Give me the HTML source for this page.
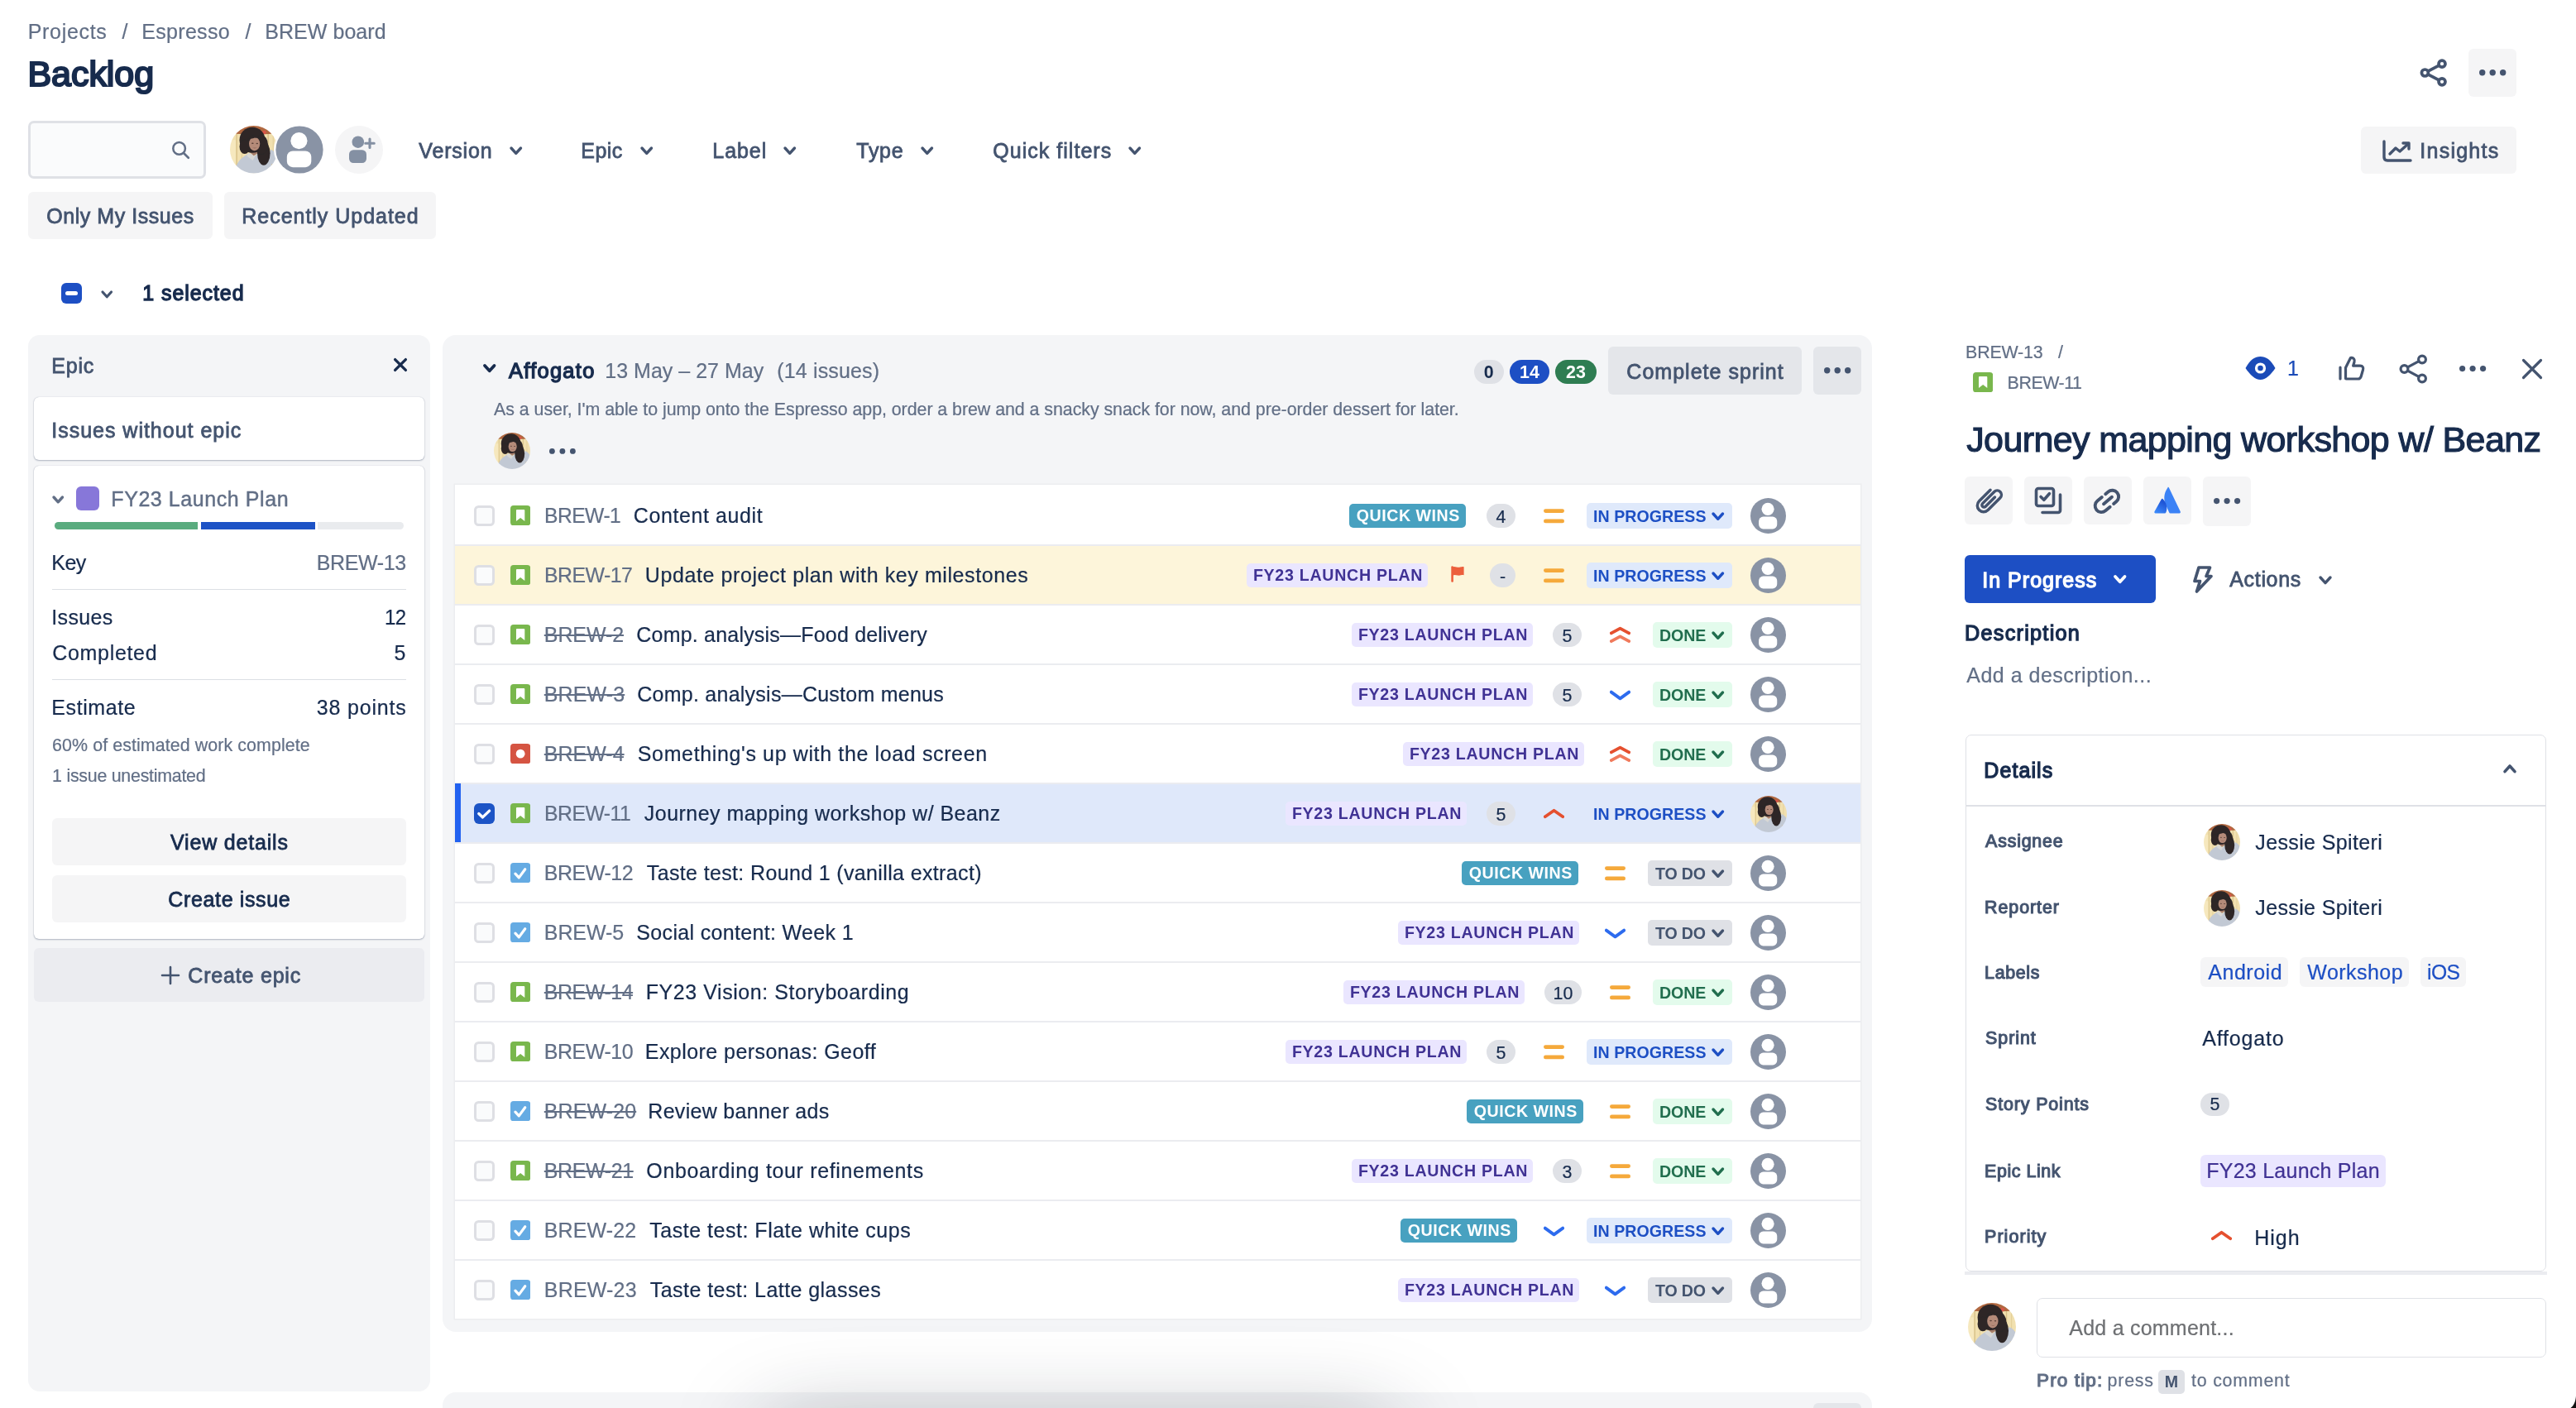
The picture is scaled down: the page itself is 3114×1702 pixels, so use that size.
<!DOCTYPE html>
<html><head><meta charset="utf-8"><title>Backlog</title>
<style>
html,body{margin:0;padding:0;}
body{width:3114px;height:1702px;overflow:hidden;background:#fff;position:relative;font-family:"Liberation Sans",sans-serif;}
#root{position:absolute;left:0;top:0;width:3114px;height:1702px;will-change:transform;}
.a{position:absolute;display:block;}
.t{position:absolute;white-space:nowrap;line-height:1;display:inline-block;}
.t2{white-space:nowrap;line-height:1;display:inline-block;}
div.a>.t2{vertical-align:top;}
</style></head>
<body>
<div id="root">
<span class="t" style="top: 25.8px; font-size: 25px; color: rgb(98, 111, 134); -webkit-text-stroke: 0.22px rgb(98, 111, 134); left: 33.7px; letter-spacing: 0.685px;">Projects</span>
<span class="t" style="top:25.80px;font-size:25px;color:#626F86;-webkit-text-stroke:0.22px #626F86;left:147.5px;">/</span>
<span class="t" style="top: 25.8px; font-size: 25px; color: rgb(98, 111, 134); -webkit-text-stroke: 0.22px rgb(98, 111, 134); left: 171.3px; letter-spacing: 0.299px;">Espresso</span>
<span class="t" style="top:25.80px;font-size:25px;color:#626F86;-webkit-text-stroke:0.22px #626F86;left:296.5px;">/</span>
<span class="t" style="top: 25.8px; font-size: 25px; color: rgb(98, 111, 134); -webkit-text-stroke: 0.22px rgb(98, 111, 134); left: 320.3px; letter-spacing: 0.046px;">BREW board</span>
<span class="t" style="top: 67.8px; font-size: 43px; color: rgb(23, 43, 77); -webkit-text-stroke: 2.24px rgb(23, 43, 77); left: 33.5px; letter-spacing: -0.06px;">Backlog</span>
<div class="a" style="left:34px;top:146px;width:215px;height:70px;background:#FAFBFC;border-radius:7px;border:3px solid #DFE1E6;box-sizing:border-box;"></div>
<svg class="a" style="left:205px;top:168px;" width="28" height="28" viewBox="0 0 28 28"><circle cx="11.6" cy="11.4" r="7.3" fill="none" stroke="#626F86" stroke-width="2.5"></circle><path d="M17 17 L22.8 22.8" stroke="#626F86" stroke-width="2.7" stroke-linecap="round"></path></svg>
<svg class="a" style="left:278.25px;top:152.45px;" width="57.5" height="57.5" viewBox="0 0 100 100">
<defs><clipPath id="cp307_181"><circle cx="50" cy="50" r="50"></circle></clipPath>
<filter id="bl307_181" x="-10%" y="-10%" width="120%" height="120%"><feGaussianBlur stdDeviation="1.1"></feGaussianBlur></filter></defs>
<g clip-path="url(#cp307_181)"><g filter="url(#bl307_181)">
<rect x="-5" y="-5" width="110" height="110" fill="#F1E0AF"></rect>
<rect x="13" y="10" width="2.2" height="90" fill="#D6BF86"></rect><rect x="24" y="10" width="1.6" height="90" fill="#E0CC96"></rect>
<rect x="79" y="10" width="2.4" height="90" fill="#D6BF86"></rect><rect x="90" y="10" width="1.6" height="90" fill="#E0CC96"></rect>
<rect x="0" y="30" width="12" height="70" fill="#F6E8BE"></rect>
<path d="M-5 -5 H105 V15 C80 19 20 19 -5 15 Z" fill="#B0673F"></path>
<circle cx="72" cy="14" r="4" fill="#D8564A"></circle>
<path d="M84 82 L100 70 V100 H80 Z" fill="#D2AE66"></path>
<path d="M10 100 C12 78 22 68 40 58 L52 64 L62 54 C68 58 72 62 78 64 L86 50 C93 53 98 58 101 66 L94 84 L88 80 L86 101 Z" fill="#C2C9D4"></path>
<path d="M40 57 L53 64 L48 73 L35 63 Z" fill="#D8D8D5"></path>
<path d="M43 44 L60 48 L58 58 L50 63 L42 56 Z" fill="#A67D6B"></path>
<ellipse cx="47" cy="30" rx="27" ry="27" fill="#2D2628"></ellipse>
<ellipse cx="31" cy="44" rx="11" ry="15" fill="#2D2628"></ellipse>
<ellipse cx="71" cy="58" rx="13.5" ry="25" fill="#2D2628"></ellipse>
<ellipse cx="66" cy="40" rx="14" ry="20" fill="#2D2628"></ellipse>
<ellipse cx="51.5" cy="38" rx="11.5" ry="14.5" fill="#B58B79"></ellipse>
<path d="M37 30 C40 18 60 16 66 30 C60 24 56 27 52 25 C47 28 42 25 37 30 Z" fill="#2D2628"></path>
<ellipse cx="47.5" cy="37" rx="2.4" ry="1.3" fill="#5A4038"></ellipse><ellipse cx="57" cy="37.5" rx="2.2" ry="1.2" fill="#5A4038"></ellipse>
<path d="M47 45.5 Q52 49 57.5 45.5 Q52 47.5 47 45.5Z" fill="#7A4A42"></path>
</g></g></svg>
<svg class="a" style="left:330.5px;top:150.2px;" width="62" height="62" viewBox="0 0 100 100"><circle cx="50" cy="50" r="50" fill="#fff"></circle><g transform="translate(50 50) scale(0.9225806451612903) translate(-50 -50)"><circle cx="50" cy="50" r="50" fill="#8993A5"></circle><circle cx="49" cy="31" r="17.6" fill="#fff"></circle><rect x="23.5" y="52.5" width="51.5" height="34.5" rx="12.5" fill="#fff"></rect></g></svg>
<div class="a" style="left:405px;top:152px;width:58px;height:58px;background:#F5F5F6;border-radius:29px;"></div>
<svg class="a" style="left:419px;top:162px;" width="38" height="38" viewBox="0 0 38 38"><circle cx="13.8" cy="9.7" r="7.3" fill="#8490A3"></circle><rect x="3" y="19.2" width="21" height="15.8" rx="5.2" fill="#8490A3"></rect><path d="M28 6 v10.5 M22.75 11.25 h10.5" stroke="#8490A3" stroke-width="3.1" stroke-linecap="round"></path></svg>
<span class="t" style="top: 169.8px; font-size: 25px; color: rgb(68, 84, 111); -webkit-text-stroke: 0.8px rgb(68, 84, 111); left: 506.3px; letter-spacing: 0.82px;">Version</span>
<svg class="a" style="left:611.95px;top:173.4375px;" width="23.5" height="18.325" viewBox="-11.75 -9.1625 23.5 18.325"><path d="M-5.75,-3.1625 L0,3.1625 L5.75,-3.1625" fill="none" stroke="#44546F" stroke-width="3.4" stroke-linecap="round" stroke-linejoin="round"></path></svg>
<span class="t" style="top: 169.8px; font-size: 25px; color: rgb(68, 84, 111); -webkit-text-stroke: 0.8px rgb(68, 84, 111); left: 702.3px; letter-spacing: 0.422px;">Epic</span>
<svg class="a" style="left:770.25px;top:173.4375px;" width="23.5" height="18.325" viewBox="-11.75 -9.1625 23.5 18.325"><path d="M-5.75,-3.1625 L0,3.1625 L5.75,-3.1625" fill="none" stroke="#44546F" stroke-width="3.4" stroke-linecap="round" stroke-linejoin="round"></path></svg>
<span class="t" style="top: 169.8px; font-size: 25px; color: rgb(68, 84, 111); -webkit-text-stroke: 0.8px rgb(68, 84, 111); left: 861.3px; letter-spacing: 0.946px;">Label</span>
<svg class="a" style="left:943.25px;top:173.4375px;" width="23.5" height="18.325" viewBox="-11.75 -9.1625 23.5 18.325"><path d="M-5.75,-3.1625 L0,3.1625 L5.75,-3.1625" fill="none" stroke="#44546F" stroke-width="3.4" stroke-linecap="round" stroke-linejoin="round"></path></svg>
<span class="t" style="top: 169.8px; font-size: 25px; color: rgb(68, 84, 111); -webkit-text-stroke: 0.8px rgb(68, 84, 111); left: 1035.3px; letter-spacing: 0.702px;">Type</span>
<svg class="a" style="left:1109.25px;top:173.4375px;" width="23.5" height="18.325" viewBox="-11.75 -9.1625 23.5 18.325"><path d="M-5.75,-3.1625 L0,3.1625 L5.75,-3.1625" fill="none" stroke="#44546F" stroke-width="3.4" stroke-linecap="round" stroke-linejoin="round"></path></svg>
<span class="t" style="top: 169.8px; font-size: 25px; color: rgb(68, 84, 111); -webkit-text-stroke: 0.8px rgb(68, 84, 111); left: 1200.3px; letter-spacing: 1.027px;">Quick filters</span>
<svg class="a" style="left:1360.25px;top:173.4375px;" width="23.5" height="18.325" viewBox="-11.75 -9.1625 23.5 18.325"><path d="M-5.75,-3.1625 L0,3.1625 L5.75,-3.1625" fill="none" stroke="#44546F" stroke-width="3.4" stroke-linecap="round" stroke-linejoin="round"></path></svg>
<div class="a" style="left:34px;top:232px;width:223px;height:57px;background:#F5F5F6;border-radius:6px;"></div>
<span class="t" style="top: 248.8px; font-size: 25px; color: rgb(68, 84, 111); -webkit-text-stroke: 0.8px rgb(68, 84, 111); left: 56.3px; letter-spacing: 0.54px;">Only My Issues</span>
<div class="a" style="left:271px;top:232px;width:256px;height:57px;background:#F5F5F6;border-radius:6px;"></div>
<span class="t" style="top: 248.8px; font-size: 25px; color: rgb(68, 84, 111); -webkit-text-stroke: 0.8px rgb(68, 84, 111); left: 292.3px; letter-spacing: 0.972px;">Recently Updated</span>
<svg class="a" style="left:2924px;top:69px;" width="38" height="38" viewBox="0 0 38 38"><g fill="none" stroke="#44546F" stroke-width="3.7"><circle cx="28" cy="8.2" r="4"></circle><circle cx="7.4" cy="19" r="4"></circle><circle cx="28" cy="29.8" r="4"></circle><path d="M11 17.1 L24.4 10.1 M11 20.9 L24.4 27.9"></path></g></svg>
<div class="a" style="left:2984px;top:59px;width:58px;height:58px;background:#F5F5F6;border-radius:6px;"></div>
<svg class="a" style="left:2995.8px;top:83.3px;" width="34.4" height="9.4" viewBox="-17.2 -4.7 34.4 9.4"><circle cx="-12.5" cy="0" r="3.7" fill="#44546F"></circle><circle cx="0.0" cy="0" r="3.7" fill="#44546F"></circle><circle cx="12.5" cy="0" r="3.7" fill="#44546F"></circle></svg>
<div class="a" style="left:2854px;top:153px;width:188px;height:57px;background:#F5F5F6;border-radius:6px;"></div>
<svg class="a" style="left:2878.5px;top:168px;" width="38" height="30" viewBox="0 0 38 30"><g fill="none" stroke="#44546F" stroke-width="3.4" stroke-linecap="round" stroke-linejoin="round"><path d="M3 3 V22 Q3 26 7 26 H35"></path><path d="M10 18 L17 11 L22 15 L32 6"></path><path d="M26 5 H33 V12"></path></g></svg>
<span class="t" style="top: 169.8px; font-size: 25px; color: rgb(68, 84, 111); -webkit-text-stroke: 0.8px rgb(68, 84, 111); left: 2925.3px; letter-spacing: 1.249px;">Insights</span>
<div class="a" style="left:74px;top:342px;width:25px;height:25px;background:#1D4FC4;border-radius:6px;"></div>
<div class="a" style="left:79.3px;top:351.9px;width:14.6px;height:5px;background:#fff;border-radius:2.5px;"></div>
<svg class="a" style="left:118.44999999999999px;top:346.9125px;" width="22.5" height="17.775" viewBox="-11.25 -8.8875 22.5 17.775"><path d="M-5.25,-2.8875 L0,2.8875 L5.25,-2.8875" fill="none" stroke="#44546F" stroke-width="3.2" stroke-linecap="round" stroke-linejoin="round"></path></svg>
<span class="t" style="top: 341.8px; font-size: 25px; color: rgb(23, 43, 77); -webkit-text-stroke: 1.3px rgb(23, 43, 77); left: 172.3px; letter-spacing: 0.927px;">1 selected</span>
<div class="a" style="left:34px;top:405px;width:486px;height:1277px;background:#F4F5F7;border-radius:14px;"></div>
<span class="t" style="top: 429.8px; font-size: 25px; color: rgb(68, 84, 111); -webkit-text-stroke: 0.8px rgb(68, 84, 111); left: 62.3px; letter-spacing: 0.756px;">Epic</span>
<svg class="a" style="left:473px;top:430px;" width="22" height="22" viewBox="0 0 22 22"><path d="M4.6 4.6 L17.4 17.4 M17.4 4.6 L4.6 17.4" stroke="#172B4D" stroke-width="3.3" stroke-linecap="round"></path></svg>
<div class="a" style="left:41px;top:480px;width:472px;height:76px;background:#fff;border-radius:6px;box-shadow:0 1px 2px rgba(9,30,66,.28),0 0 1px rgba(9,30,66,.3);"></div>
<span class="t" style="top: 507.8px; font-size: 25px; color: rgb(68, 84, 111); -webkit-text-stroke: 0.8px rgb(68, 84, 111); left: 62.3px; letter-spacing: 0.982px;">Issues without epic</span>
<div class="a" style="left:41px;top:563px;width:472px;height:572px;background:#fff;border-radius:6px;box-shadow:0 1px 2px rgba(9,30,66,.28),0 0 1px rgba(9,30,66,.3);"></div>
<svg class="a" style="left:58.75px;top:594.6125px;" width="22.5" height="17.775" viewBox="-11.25 -8.8875 22.5 17.775"><path d="M-5.25,-2.8875 L0,2.8875 L5.25,-2.8875" fill="none" stroke="#626F86" stroke-width="3.4" stroke-linecap="round" stroke-linejoin="round"></path></svg>
<div class="a" style="left:92px;top:588px;width:28px;height:29px;background:#8777D9;border-radius:6px;"></div>
<span class="t" style="top: 590.8px; font-size: 25px; color: rgb(98, 111, 134); -webkit-text-stroke: 0.45px rgb(98, 111, 134); left: 134.3px; letter-spacing: 0.574px;">FY23 Launch Plan</span>
<div class="a" style="left:66px;top:631px;width:422px;height:9px;background:#E9EBEE;border-radius:4.5px;"></div>
<div class="a" style="left:66px;top:631px;width:173px;height:9px;background:#5AAC7F;border-radius:4.5px 0 0 4.5px;"></div>
<div class="a" style="left:243px;top:631px;width:138px;height:9px;background:#1D53C6;"></div>
<div class="a" style="left:239px;top:631px;width:4px;height:9px;background:#fff;"></div>
<div class="a" style="left:381px;top:631px;width:3px;height:9px;background:#fff;"></div>
<span class="t" style="top: 667.8px; font-size: 25px; color: rgb(23, 43, 77); -webkit-text-stroke: 0.22px rgb(23, 43, 77); left: 62.3px; letter-spacing: -0.55px;">Key</span>
<span class="t" style="top: 667.8px; font-size: 25px; color: rgb(98, 111, 134); -webkit-text-stroke: 0.22px rgb(98, 111, 134); right: 2623.29px; letter-spacing: -0.396px;">BREW-13</span>
<div class="a" style="left:63px;top:712px;width:428px;height:1px;background:#DCDFE4;"></div>
<span class="t" style="top: 733.8px; font-size: 25px; color: rgb(23, 43, 77); -webkit-text-stroke: 0.22px rgb(23, 43, 77); left: 62.3px; letter-spacing: 0.329px;">Issues</span>
<span class="t" style="top: 733.8px; font-size: 25px; color: rgb(23, 43, 77); -webkit-text-stroke: 0.22px rgb(23, 43, 77); right: 2623.46px; letter-spacing: -0.55px; transform: scaleX(0.9624); transform-origin: right center;">12</span>
<span class="t" style="top: 776.8px; font-size: 25px; color: rgb(23, 43, 77); -webkit-text-stroke: 0.22px rgb(23, 43, 77); left: 63.3px; letter-spacing: 0.676px;">Completed</span>
<span class="t" style="top:776.80px;font-size:25px;color:#172B4D;-webkit-text-stroke:0.22px #172B4D;right:2623.5px;">5</span>
<div class="a" style="left:63px;top:821px;width:428px;height:1px;background:#DCDFE4;"></div>
<span class="t" style="top: 842.8px; font-size: 25px; color: rgb(23, 43, 77); -webkit-text-stroke: 0.22px rgb(23, 43, 77); left: 62.3px; letter-spacing: 0.579px;">Estimate</span>
<span class="t" style="top: 842.8px; font-size: 25px; color: rgb(23, 43, 77); -webkit-text-stroke: 0.22px rgb(23, 43, 77); right: 2622.5px; letter-spacing: 0.804px;">38 points</span>
<span class="t" style="top: 890.6px; font-size: 21.4px; color: rgb(98, 111, 134); -webkit-text-stroke: 0.22px rgb(98, 111, 134); left: 63.11px; letter-spacing: 0.083px;">60% of estimated work complete</span>
<span class="t" style="top: 927.6px; font-size: 21.4px; color: rgb(98, 111, 134); -webkit-text-stroke: 0.22px rgb(98, 111, 134); left: 63.11px; letter-spacing: -0.262px;">1 issue unestimated</span>
<div class="a" style="left:63px;top:989px;width:428px;height:57px;background:#F5F5F6;border-radius:6px;"></div>
<div class="a" style="top:1005.80px;font-size:25px;color:#172B4D;-webkit-text-stroke:0.8px #172B4D;left:-323px;width:1200px;text-align:center;"><span class="t2" style="letter-spacing: 0.814px; margin-right: -0.814px;">View details</span></div>
<div class="a" style="left:63px;top:1058px;width:428px;height:57px;background:#F5F5F6;border-radius:6px;"></div>
<div class="a" style="top:1074.80px;font-size:25px;color:#172B4D;-webkit-text-stroke:0.8px #172B4D;left:-323px;width:1200px;text-align:center;"><span class="t2" style="letter-spacing: 0.633px; margin-right: -0.633px;">Create issue</span></div>
<div class="a" style="left:41px;top:1146px;width:472px;height:65px;background:#EBECF0;border-radius:6px;"></div>
<svg class="a" style="left:194px;top:1167px;" width="24" height="24" viewBox="0 0 24 24"><path d="M12 2 V22 M2 12 H22" stroke="#44546F" stroke-width="2.6" stroke-linecap="round"></path></svg>
<span class="t" style="top: 1166.8px; font-size: 25px; color: rgb(68, 84, 111); -webkit-text-stroke: 0.8px rgb(68, 84, 111); left: 227.3px; letter-spacing: 0.806px;">Create epic</span>
<div class="a" style="left:535px;top:405px;width:1728px;height:1205px;background:#F4F5F7;border-radius:16px;"></div>
<svg class="a" style="left:580.25px;top:436.3375px;" width="23.5" height="18.325" viewBox="-11.75 -9.1625 23.5 18.325"><path d="M-5.75,-3.1625 L0,3.1625 L5.75,-3.1625" fill="none" stroke="#172B4D" stroke-width="3.8" stroke-linecap="round" stroke-linejoin="round"></path></svg>
<span class="t" style="top: 435.8px; font-size: 25px; color: rgb(23, 43, 77); -webkit-text-stroke: 1.3px rgb(23, 43, 77); left: 615.3px; letter-spacing: 1.25px; transform: scaleX(1.0187); transform-origin: left center;">Affogato</span>
<span class="t" style="top: 435.8px; font-size: 25px; color: rgb(98, 111, 134); -webkit-text-stroke: 0.22px rgb(98, 111, 134); left: 731.3px; letter-spacing: 0.01px;">13 May – 27 May</span>
<span class="t" style="top: 435.8px; font-size: 25px; color: rgb(98, 111, 134); -webkit-text-stroke: 0.22px rgb(98, 111, 134); left: 939.3px; letter-spacing: 0.146px;">(14 issues)</span>
<span class="t" style="top: 484.6px; font-size: 21.4px; color: rgb(98, 111, 134); -webkit-text-stroke: 0.22px rgb(98, 111, 134); left: 597.11px; letter-spacing: -0.051px;">As a user, I'm able to jump onto the Espresso app, order a brew and a snacky snack for now, and pre-order dessert for later.</span>
<svg class="a" style="left:596.5px;top:523.0px;" width="44" height="44" viewBox="0 0 100 100">
<defs><clipPath id="cp618_545"><circle cx="50" cy="50" r="50"></circle></clipPath>
<filter id="bl618_545" x="-10%" y="-10%" width="120%" height="120%"><feGaussianBlur stdDeviation="1.1"></feGaussianBlur></filter></defs>
<g clip-path="url(#cp618_545)"><g filter="url(#bl618_545)">
<rect x="-5" y="-5" width="110" height="110" fill="#F1E0AF"></rect>
<rect x="13" y="10" width="2.2" height="90" fill="#D6BF86"></rect><rect x="24" y="10" width="1.6" height="90" fill="#E0CC96"></rect>
<rect x="79" y="10" width="2.4" height="90" fill="#D6BF86"></rect><rect x="90" y="10" width="1.6" height="90" fill="#E0CC96"></rect>
<rect x="0" y="30" width="12" height="70" fill="#F6E8BE"></rect>
<path d="M-5 -5 H105 V15 C80 19 20 19 -5 15 Z" fill="#B0673F"></path>
<circle cx="72" cy="14" r="4" fill="#D8564A"></circle>
<path d="M84 82 L100 70 V100 H80 Z" fill="#D2AE66"></path>
<path d="M10 100 C12 78 22 68 40 58 L52 64 L62 54 C68 58 72 62 78 64 L86 50 C93 53 98 58 101 66 L94 84 L88 80 L86 101 Z" fill="#C2C9D4"></path>
<path d="M40 57 L53 64 L48 73 L35 63 Z" fill="#D8D8D5"></path>
<path d="M43 44 L60 48 L58 58 L50 63 L42 56 Z" fill="#A67D6B"></path>
<ellipse cx="47" cy="30" rx="27" ry="27" fill="#2D2628"></ellipse>
<ellipse cx="31" cy="44" rx="11" ry="15" fill="#2D2628"></ellipse>
<ellipse cx="71" cy="58" rx="13.5" ry="25" fill="#2D2628"></ellipse>
<ellipse cx="66" cy="40" rx="14" ry="20" fill="#2D2628"></ellipse>
<ellipse cx="51.5" cy="38" rx="11.5" ry="14.5" fill="#B58B79"></ellipse>
<path d="M37 30 C40 18 60 16 66 30 C60 24 56 27 52 25 C47 28 42 25 37 30 Z" fill="#2D2628"></path>
<ellipse cx="47.5" cy="37" rx="2.4" ry="1.3" fill="#5A4038"></ellipse><ellipse cx="57" cy="37.5" rx="2.2" ry="1.2" fill="#5A4038"></ellipse>
<path d="M47 45.5 Q52 49 57.5 45.5 Q52 47.5 47 45.5Z" fill="#7A4A42"></path>
</g></g></svg>
<svg class="a" style="left:662.6px;top:540.6px;" width="33.8" height="8.8" viewBox="-16.9 -4.4 33.8 8.8"><circle cx="-12.5" cy="0" r="3.4" fill="#44546F"></circle><circle cx="0.0" cy="0" r="3.4" fill="#44546F"></circle><circle cx="12.5" cy="0" r="3.4" fill="#44546F"></circle></svg>
<div class="a" style="left:1782px;top:435px;width:35.5px;height:29px;background:#DFE1E6;border-radius:14.5px;"></div>
<div class="a" style="top:439.60px;font-size:21.4px;color:#172B4D;font-weight:700;left:1199.7px;width:1200px;text-align:center;"><span class="t2">0</span></div>
<div class="a" style="left:1825px;top:435px;width:48px;height:29px;background:#1D4FC4;border-radius:14.5px;"></div>
<div class="a" style="top:439.60px;font-size:21.4px;color:#fff;font-weight:700;left:1249px;width:1200px;text-align:center;"><span class="t2">14</span></div>
<div class="a" style="left:1880px;top:435px;width:50px;height:29px;background:#2F7D52;border-radius:14.5px;"></div>
<div class="a" style="top:439.60px;font-size:21.4px;color:#fff;font-weight:700;left:1305px;width:1200px;text-align:center;"><span class="t2">23</span></div>
<div class="a" style="left:1944px;top:419px;width:234px;height:58px;background:#E4E6EA;border-radius:6px;"></div>
<div class="a" style="top:436.80px;font-size:25px;color:#44546F;-webkit-text-stroke:0.8px #44546F;left:1461px;width:1200px;text-align:center;"><span class="t2" style="letter-spacing: 1.019px; margin-right: -1.019px;">Complete sprint</span></div>
<div class="a" style="left:2192px;top:419px;width:58px;height:58px;background:#E4E6EA;border-radius:6px;"></div>
<svg class="a" style="left:2203.8px;top:443.3px;" width="34.4" height="9.4" viewBox="-17.2 -4.7 34.4 9.4"><circle cx="-12.5" cy="0" r="3.7" fill="#44546F"></circle><circle cx="0.0" cy="0" r="3.7" fill="#44546F"></circle><circle cx="12.5" cy="0" r="3.7" fill="#44546F"></circle></svg>
<div class="a" style="left:550px;top:586px;width:1699px;height:1008px;background:#fff;box-shadow:0 0 0 1.5px #ECEDF0;"></div>
<div class="a" style="left:573px;top:611px;width:25px;height:25px;background:#FAFBFC;border-radius:5.5px;border:3px solid #DEDFE4;box-sizing:border-box;"></div>
<svg class="a" style="left:616.9px;top:611px;" width="24.3" height="24.3" viewBox="0 0 16 16"><rect width="16" height="16" rx="2.5" fill="#79B74D"></rect><path d="M5.2 3.3 h5.6 a.6.6 0 0 1 .6 .6 v8.6 l-3.4 -2.7 l-3.4 2.7 v-8.6 a.6.6 0 0 1 .6 -.6z" fill="#fff"></path></svg>
<span class="t" style="top: 610.8px; font-size: 25px; color: rgb(98, 111, 134); -webkit-text-stroke: 0.22px rgb(98, 111, 134); left: 657.83px; letter-spacing: -0.55px; transform: scaleX(0.9866); transform-origin: left center;">BREW-1</span>
<span class="t" style="top: 610.8px; font-size: 25px; color: rgb(23, 43, 77); -webkit-text-stroke: 0.22px rgb(23, 43, 77); left: 765.8px; letter-spacing: 0.594px;">Content audit</span>
<svg class="a" style="left:2115.7px;top:601.8px;" width="43" height="43" viewBox="0 0 100 100"><g transform="translate(50 50) scale(1.0) translate(-50 -50)"><circle cx="50" cy="50" r="50" fill="#8993A5"></circle><circle cx="49" cy="31" r="17.6" fill="#fff"></circle><rect x="23.5" y="52.5" width="51.5" height="34.5" rx="12.5" fill="#fff"></rect></g></svg>
<div class="a" style="left:1918px;top:608px;width:176px;height:31px;background:#DFE9FB;border-radius:5px;"></div>
<span class="t" style="top: 614.5px; font-size: 19.6px; color: rgb(29, 79, 196); font-weight: 700; left: 1926.02px; letter-spacing: 0.042px;">IN PROGRESS</span>
<svg class="a" style="left:2065.25px;top:614.8375px;" width="23.5" height="18.325" viewBox="-11.75 -9.1625 23.5 18.325"><path d="M-5.75,-3.1625 L0,3.1625 L5.75,-3.1625" fill="none" stroke="#1D4FC4" stroke-width="3.4" stroke-linecap="round" stroke-linejoin="round"></path></svg>
<svg class="a" style="left:1866px;top:609.5px;" width="25" height="28" viewBox="0 -14 25 28"><rect x="0" y="-8.7" width="25" height="4.6" rx="2.3" fill="#F5A93B"></rect><rect x="0" y="3.6" width="25" height="4.6" rx="2.3" fill="#F5A93B"></rect></svg>
<div class="a" style="left:1797px;top:609px;width:35px;height:29px;background:#DFE1E6;border-radius:14.5px;"></div>
<div class="a" style="top:614.60px;font-size:21.4px;color:#172B4D;-webkit-text-stroke:0.22px #172B4D;left:1214.5px;width:1200px;text-align:center;"><span class="t2">4</span></div>
<div class="a" style="left:1631.3px;top:609px;width:140.7px;height:28.5px;background:#48A1C0;border-radius:5px;"></div>
<span class="t" style="top: 613.5px; font-size: 19.6px; color: rgb(255, 255, 255); font-weight: 700; left: 1639.82px; letter-spacing: 0.531px;">QUICK WINS</span>
<div class="a" style="left:550px;top:659px;width:1699px;height:71px;background:#FDF5DA;"></div>
<div class="a" style="left:550px;top:658px;width:1699px;height:1.5px;background:#EBECF0;"></div>
<div class="a" style="left:573px;top:683px;width:25px;height:25px;background:#FAFBFC;border-radius:5.5px;border:3px solid #DEDFE4;box-sizing:border-box;"></div>
<svg class="a" style="left:616.9px;top:683px;" width="24.3" height="24.3" viewBox="0 0 16 16"><rect width="16" height="16" rx="2.5" fill="#79B74D"></rect><path d="M5.2 3.3 h5.6 a.6.6 0 0 1 .6 .6 v8.6 l-3.4 -2.7 l-3.4 2.7 v-8.6 a.6.6 0 0 1 .6 -.6z" fill="#fff"></path></svg>
<span class="t" style="top: 682.8px; font-size: 25px; color: rgb(98, 111, 134); -webkit-text-stroke: 0.22px rgb(98, 111, 134); left: 657.81px; letter-spacing: -0.55px; transform: scaleX(0.9945); transform-origin: left center;">BREW-17</span>
<span class="t" style="top: 682.8px; font-size: 25px; color: rgb(23, 43, 77); -webkit-text-stroke: 0.22px rgb(23, 43, 77); left: 779.8px; letter-spacing: 0.589px;">Update project plan with key milestones</span>
<svg class="a" style="left:2115.7px;top:673.8px;" width="43" height="43" viewBox="0 0 100 100"><g transform="translate(50 50) scale(1.0) translate(-50 -50)"><circle cx="50" cy="50" r="50" fill="#8993A5"></circle><circle cx="49" cy="31" r="17.6" fill="#fff"></circle><rect x="23.5" y="52.5" width="51.5" height="34.5" rx="12.5" fill="#fff"></rect></g></svg>
<div class="a" style="left:1918px;top:680px;width:176px;height:31px;background:#DFE9FB;border-radius:5px;"></div>
<span class="t" style="top: 686.5px; font-size: 19.6px; color: rgb(29, 79, 196); font-weight: 700; left: 1926.02px; letter-spacing: 0.042px;">IN PROGRESS</span>
<svg class="a" style="left:2065.25px;top:686.8375px;" width="23.5" height="18.325" viewBox="-11.75 -9.1625 23.5 18.325"><path d="M-5.75,-3.1625 L0,3.1625 L5.75,-3.1625" fill="none" stroke="#1D4FC4" stroke-width="3.4" stroke-linecap="round" stroke-linejoin="round"></path></svg>
<svg class="a" style="left:1866px;top:681.5px;" width="25" height="28" viewBox="0 -14 25 28"><rect x="0" y="-8.7" width="25" height="4.6" rx="2.3" fill="#F5A93B"></rect><rect x="0" y="3.6" width="25" height="4.6" rx="2.3" fill="#F5A93B"></rect></svg>
<div class="a" style="left:1801px;top:681px;width:31px;height:29px;background:#DFE1E6;border-radius:14.5px;"></div>
<div class="a" style="top:686.60px;font-size:21.4px;color:#172B4D;-webkit-text-stroke:0.22px #172B4D;left:1216.5px;width:1200px;text-align:center;"><span class="t2">-</span></div>
<svg class="a" style="left:1754px;top:683.5px;" width="17" height="20" viewBox="0 0 17 20"><path d="M1.6 1.6 V18.4" stroke="#EC5F3C" stroke-width="2.6" stroke-linecap="round"></path><path d="M1.5 1.6 C4.5 -0.2 8 2.6 11 1.6 C13 1 14.5 0.9 15.6 1.2 V11.2 C13 10.6 11 12.2 8 11.6 C5.5 11 4 10.6 1.5 11.8 Z" fill="#EC5F3C"></path></svg>
<div class="a" style="left:1507.4px;top:681px;width:218.6px;height:28.5px;background:#EAE6FF;border-radius:5px;"></div>
<span class="t" style="top: 685.5px; font-size: 19.6px; color: rgb(64, 50, 148); font-weight: 700; left: 1514.92px; letter-spacing: 0.715px;">FY23 LAUNCH PLAN</span>
<div class="a" style="left:550px;top:730px;width:1699px;height:1.5px;background:#EBECF0;"></div>
<div class="a" style="left:573px;top:755px;width:25px;height:25px;background:#FAFBFC;border-radius:5.5px;border:3px solid #DEDFE4;box-sizing:border-box;"></div>
<svg class="a" style="left:616.9px;top:755px;" width="24.3" height="24.3" viewBox="0 0 16 16"><rect width="16" height="16" rx="2.5" fill="#79B74D"></rect><path d="M5.2 3.3 h5.6 a.6.6 0 0 1 .6 .6 v8.6 l-3.4 -2.7 l-3.4 2.7 v-8.6 a.6.6 0 0 1 .6 -.6z" fill="#fff"></path></svg>
<span class="t" style="top: 754.8px; font-size: 25px; color: rgb(98, 111, 134); -webkit-text-stroke: 0.22px rgb(98, 111, 134); text-decoration: line-through; left: 657.8px; letter-spacing: -0.095px;">BREW-2</span>
<span class="t" style="top: 754.8px; font-size: 25px; color: rgb(23, 43, 77); -webkit-text-stroke: 0.22px rgb(23, 43, 77); left: 769.3px; letter-spacing: 0.201px;">Comp. analysis—Food delivery</span>
<svg class="a" style="left:2115.7px;top:745.8px;" width="43" height="43" viewBox="0 0 100 100"><g transform="translate(50 50) scale(1.0) translate(-50 -50)"><circle cx="50" cy="50" r="50" fill="#8993A5"></circle><circle cx="49" cy="31" r="17.6" fill="#fff"></circle><rect x="23.5" y="52.5" width="51.5" height="34.5" rx="12.5" fill="#fff"></rect></g></svg>
<div class="a" style="left:1998px;top:752px;width:96px;height:31px;background:#E3FBEC;border-radius:5px;"></div>
<span class="t" style="top: 758.5px; font-size: 19.6px; color: rgb(33, 110, 78); font-weight: 700; left: 2006.02px; letter-spacing: -0.132px;">DONE</span>
<svg class="a" style="left:2065.25px;top:758.8375px;" width="23.5" height="18.325" viewBox="-11.75 -9.1625 23.5 18.325"><path d="M-5.75,-3.1625 L0,3.1625 L5.75,-3.1625" fill="none" stroke="#216E4E" stroke-width="3.4" stroke-linecap="round" stroke-linejoin="round"></path></svg>
<svg class="a" style="left:1946px;top:753.5px;" width="25" height="28" viewBox="0 -14 25 28"><path d="M1.8 -2.6 L12.5 -8.4 L23.2 -2.6" fill="none" stroke="#E5502F" stroke-width="3.8" stroke-linecap="round" stroke-linejoin="round"></path><path d="M1.8 7.2 L12.5 1.4 L23.2 7.2" fill="none" stroke="#F07A5C" stroke-width="3.8" stroke-linecap="round" stroke-linejoin="round"></path></svg>
<div class="a" style="left:1877px;top:753px;width:35px;height:29px;background:#DFE1E6;border-radius:14.5px;"></div>
<div class="a" style="top:758.60px;font-size:21.4px;color:#172B4D;-webkit-text-stroke:0.22px #172B4D;left:1294.5px;width:1200px;text-align:center;"><span class="t2">5</span></div>
<div class="a" style="left:1634.4px;top:753px;width:218.6px;height:28.5px;background:#EAE6FF;border-radius:5px;"></div>
<span class="t" style="top: 757.5px; font-size: 19.6px; color: rgb(64, 50, 148); font-weight: 700; left: 1641.92px; letter-spacing: 0.715px;">FY23 LAUNCH PLAN</span>
<div class="a" style="left:550px;top:802px;width:1699px;height:1.5px;background:#EBECF0;"></div>
<div class="a" style="left:573px;top:827px;width:25px;height:25px;background:#FAFBFC;border-radius:5.5px;border:3px solid #DEDFE4;box-sizing:border-box;"></div>
<svg class="a" style="left:616.9px;top:827px;" width="24.3" height="24.3" viewBox="0 0 16 16"><rect width="16" height="16" rx="2.5" fill="#79B74D"></rect><path d="M5.2 3.3 h5.6 a.6.6 0 0 1 .6 .6 v8.6 l-3.4 -2.7 l-3.4 2.7 v-8.6 a.6.6 0 0 1 .6 -.6z" fill="#fff"></path></svg>
<span class="t" style="top: 826.8px; font-size: 25px; color: rgb(98, 111, 134); -webkit-text-stroke: 0.22px rgb(98, 111, 134); text-decoration: line-through; left: 657.8px; letter-spacing: 0.105px;">BREW-3</span>
<span class="t" style="top: 826.8px; font-size: 25px; color: rgb(23, 43, 77); -webkit-text-stroke: 0.22px rgb(23, 43, 77); left: 770.3px; letter-spacing: 0.246px;">Comp. analysis—Custom menus</span>
<svg class="a" style="left:2115.7px;top:817.8px;" width="43" height="43" viewBox="0 0 100 100"><g transform="translate(50 50) scale(1.0) translate(-50 -50)"><circle cx="50" cy="50" r="50" fill="#8993A5"></circle><circle cx="49" cy="31" r="17.6" fill="#fff"></circle><rect x="23.5" y="52.5" width="51.5" height="34.5" rx="12.5" fill="#fff"></rect></g></svg>
<div class="a" style="left:1998px;top:824px;width:96px;height:31px;background:#E3FBEC;border-radius:5px;"></div>
<span class="t" style="top: 830.5px; font-size: 19.6px; color: rgb(33, 110, 78); font-weight: 700; left: 2006.02px; letter-spacing: -0.132px;">DONE</span>
<svg class="a" style="left:2065.25px;top:830.8375px;" width="23.5" height="18.325" viewBox="-11.75 -9.1625 23.5 18.325"><path d="M-5.75,-3.1625 L0,3.1625 L5.75,-3.1625" fill="none" stroke="#216E4E" stroke-width="3.4" stroke-linecap="round" stroke-linejoin="round"></path></svg>
<svg class="a" style="left:1946px;top:825.5px;" width="25" height="28" viewBox="0 -14 25 28"><path d="M1.8 -3.4 L12.5 4.4 L23.2 -3.4" fill="none" stroke="#2D6BEE" stroke-width="3.8" stroke-linecap="round" stroke-linejoin="round"></path></svg>
<div class="a" style="left:1877px;top:825px;width:35px;height:29px;background:#DFE1E6;border-radius:14.5px;"></div>
<div class="a" style="top:830.60px;font-size:21.4px;color:#172B4D;-webkit-text-stroke:0.22px #172B4D;left:1294.5px;width:1200px;text-align:center;"><span class="t2">5</span></div>
<div class="a" style="left:1634.4px;top:825px;width:218.6px;height:28.5px;background:#EAE6FF;border-radius:5px;"></div>
<span class="t" style="top: 829.5px; font-size: 19.6px; color: rgb(64, 50, 148); font-weight: 700; left: 1641.92px; letter-spacing: 0.715px;">FY23 LAUNCH PLAN</span>
<div class="a" style="left:550px;top:874px;width:1699px;height:1.5px;background:#EBECF0;"></div>
<div class="a" style="left:573px;top:899px;width:25px;height:25px;background:#FAFBFC;border-radius:5.5px;border:3px solid #DEDFE4;box-sizing:border-box;"></div>
<svg class="a" style="left:616.9px;top:899px;" width="24.3" height="24.3" viewBox="0 0 16 16"><rect width="16" height="16" rx="2.5" fill="#D55442"></rect><circle cx="8" cy="8" r="3.55" fill="#fff"></circle></svg>
<span class="t" style="top: 898.8px; font-size: 25px; color: rgb(98, 111, 134); -webkit-text-stroke: 0.22px rgb(98, 111, 134); text-decoration: line-through; left: 657.8px; letter-spacing: 0.005px;">BREW-4</span>
<span class="t" style="top: 898.8px; font-size: 25px; color: rgb(23, 43, 77); -webkit-text-stroke: 0.22px rgb(23, 43, 77); left: 770.8px; letter-spacing: 0.631px;">Something's up with the load screen</span>
<svg class="a" style="left:2115.7px;top:889.8px;" width="43" height="43" viewBox="0 0 100 100"><g transform="translate(50 50) scale(1.0) translate(-50 -50)"><circle cx="50" cy="50" r="50" fill="#8993A5"></circle><circle cx="49" cy="31" r="17.6" fill="#fff"></circle><rect x="23.5" y="52.5" width="51.5" height="34.5" rx="12.5" fill="#fff"></rect></g></svg>
<div class="a" style="left:1998px;top:896px;width:96px;height:31px;background:#E3FBEC;border-radius:5px;"></div>
<span class="t" style="top: 902.5px; font-size: 19.6px; color: rgb(33, 110, 78); font-weight: 700; left: 2006.02px; letter-spacing: -0.132px;">DONE</span>
<svg class="a" style="left:2065.25px;top:902.8375px;" width="23.5" height="18.325" viewBox="-11.75 -9.1625 23.5 18.325"><path d="M-5.75,-3.1625 L0,3.1625 L5.75,-3.1625" fill="none" stroke="#216E4E" stroke-width="3.4" stroke-linecap="round" stroke-linejoin="round"></path></svg>
<svg class="a" style="left:1946px;top:897.5px;" width="25" height="28" viewBox="0 -14 25 28"><path d="M1.8 -2.6 L12.5 -8.4 L23.2 -2.6" fill="none" stroke="#E5502F" stroke-width="3.8" stroke-linecap="round" stroke-linejoin="round"></path><path d="M1.8 7.2 L12.5 1.4 L23.2 7.2" fill="none" stroke="#F07A5C" stroke-width="3.8" stroke-linecap="round" stroke-linejoin="round"></path></svg>
<div class="a" style="left:1696.4px;top:897px;width:218.6px;height:28.5px;background:#EAE6FF;border-radius:5px;"></div>
<span class="t" style="top: 901.5px; font-size: 19.6px; color: rgb(64, 50, 148); font-weight: 700; left: 1703.92px; letter-spacing: 0.715px;">FY23 LAUNCH PLAN</span>
<div class="a" style="left:550px;top:947px;width:1699px;height:71px;background:#DFE8FA;"></div>
<div class="a" style="left:550px;top:946px;width:1699px;height:1.5px;background:#EBECF0;"></div>
<div class="a" style="left:550px;top:947px;width:6.5px;height:71px;background:#2262F0;"></div>
<div class="a" style="left:573px;top:971px;width:25px;height:25px;background:#1C54C6;border-radius:6px;"></div>
<svg class="a" style="left:573px;top:971px;" width="25" height="25" viewBox="0 0 25 25"><path d="M5.8 12.6 L10.5 16.9 L18.6 9.1" fill="none" stroke="#fff" stroke-width="3.4" stroke-linecap="round" stroke-linejoin="round"></path></svg>
<svg class="a" style="left:616.9px;top:971px;" width="24.3" height="24.3" viewBox="0 0 16 16"><rect width="16" height="16" rx="2.5" fill="#79B74D"></rect><path d="M5.2 3.3 h5.6 a.6.6 0 0 1 .6 .6 v8.6 l-3.4 -2.7 l-3.4 2.7 v-8.6 a.6.6 0 0 1 .6 -.6z" fill="#fff"></path></svg>
<span class="t" style="top: 970.8px; font-size: 25px; color: rgb(98, 111, 134); -webkit-text-stroke: 0.22px rgb(98, 111, 134); left: 657.81px; letter-spacing: -0.55px; transform: scaleX(0.993); transform-origin: left center;">BREW-11</span>
<span class="t" style="top: 970.8px; font-size: 25px; color: rgb(23, 43, 77); -webkit-text-stroke: 0.22px rgb(23, 43, 77); left: 778.8px; letter-spacing: 0.466px;">Journey mapping workshop w/ Beanz</span>
<svg class="a" style="left:2116.0px;top:961.5px;" width="44" height="44" viewBox="0 0 100 100">
<defs><clipPath id="cp2138_983"><circle cx="50" cy="50" r="50"></circle></clipPath>
<filter id="bl2138_983" x="-10%" y="-10%" width="120%" height="120%"><feGaussianBlur stdDeviation="1.1"></feGaussianBlur></filter></defs>
<g clip-path="url(#cp2138_983)"><g filter="url(#bl2138_983)">
<rect x="-5" y="-5" width="110" height="110" fill="#F1E0AF"></rect>
<rect x="13" y="10" width="2.2" height="90" fill="#D6BF86"></rect><rect x="24" y="10" width="1.6" height="90" fill="#E0CC96"></rect>
<rect x="79" y="10" width="2.4" height="90" fill="#D6BF86"></rect><rect x="90" y="10" width="1.6" height="90" fill="#E0CC96"></rect>
<rect x="0" y="30" width="12" height="70" fill="#F6E8BE"></rect>
<path d="M-5 -5 H105 V15 C80 19 20 19 -5 15 Z" fill="#B0673F"></path>
<circle cx="72" cy="14" r="4" fill="#D8564A"></circle>
<path d="M84 82 L100 70 V100 H80 Z" fill="#D2AE66"></path>
<path d="M10 100 C12 78 22 68 40 58 L52 64 L62 54 C68 58 72 62 78 64 L86 50 C93 53 98 58 101 66 L94 84 L88 80 L86 101 Z" fill="#C2C9D4"></path>
<path d="M40 57 L53 64 L48 73 L35 63 Z" fill="#D8D8D5"></path>
<path d="M43 44 L60 48 L58 58 L50 63 L42 56 Z" fill="#A67D6B"></path>
<ellipse cx="47" cy="30" rx="27" ry="27" fill="#2D2628"></ellipse>
<ellipse cx="31" cy="44" rx="11" ry="15" fill="#2D2628"></ellipse>
<ellipse cx="71" cy="58" rx="13.5" ry="25" fill="#2D2628"></ellipse>
<ellipse cx="66" cy="40" rx="14" ry="20" fill="#2D2628"></ellipse>
<ellipse cx="51.5" cy="38" rx="11.5" ry="14.5" fill="#B58B79"></ellipse>
<path d="M37 30 C40 18 60 16 66 30 C60 24 56 27 52 25 C47 28 42 25 37 30 Z" fill="#2D2628"></path>
<ellipse cx="47.5" cy="37" rx="2.4" ry="1.3" fill="#5A4038"></ellipse><ellipse cx="57" cy="37.5" rx="2.2" ry="1.2" fill="#5A4038"></ellipse>
<path d="M47 45.5 Q52 49 57.5 45.5 Q52 47.5 47 45.5Z" fill="#7A4A42"></path>
</g></g></svg>
<span class="t" style="top: 974.5px; font-size: 19.6px; color: rgb(29, 79, 196); font-weight: 700; left: 1926.02px; letter-spacing: 0.042px;">IN PROGRESS</span>
<svg class="a" style="left:2065.25px;top:974.8375px;" width="23.5" height="18.325" viewBox="-11.75 -9.1625 23.5 18.325"><path d="M-5.75,-3.1625 L0,3.1625 L5.75,-3.1625" fill="none" stroke="#1D4FC4" stroke-width="3.4" stroke-linecap="round" stroke-linejoin="round"></path></svg>
<svg class="a" style="left:1866px;top:969.5px;" width="25" height="28" viewBox="0 -14 25 28"><path d="M1.8 3.2 L12.5 -4.2 L23.2 3.2" fill="none" stroke="#E5502F" stroke-width="3.8" stroke-linecap="round" stroke-linejoin="round"></path></svg>
<div class="a" style="left:1797px;top:969px;width:35px;height:29px;background:#DFE1E6;border-radius:14.5px;"></div>
<div class="a" style="top:974.60px;font-size:21.4px;color:#172B4D;-webkit-text-stroke:0.22px #172B4D;left:1214.5px;width:1200px;text-align:center;"><span class="t2">5</span></div>
<div class="a" style="left:1554.4px;top:969px;width:218.6px;height:28.5px;background:#EAE6FF;border-radius:5px;"></div>
<span class="t" style="top: 973.5px; font-size: 19.6px; color: rgb(64, 50, 148); font-weight: 700; left: 1561.92px; letter-spacing: 0.715px;">FY23 LAUNCH PLAN</span>
<div class="a" style="left:550px;top:1018px;width:1699px;height:1.5px;background:#EBECF0;"></div>
<div class="a" style="left:573px;top:1043px;width:25px;height:25px;background:#FAFBFC;border-radius:5.5px;border:3px solid #DEDFE4;box-sizing:border-box;"></div>
<svg class="a" style="left:616.9px;top:1043px;" width="24.3" height="24.3" viewBox="0 0 16 16"><rect width="16" height="16" rx="2.5" fill="#65ABE3"></rect><path d="M3.9 8.7 l2.9 3.1 l4.9 -6.7" fill="none" stroke="#fff" stroke-width="2.1" stroke-linecap="round" stroke-linejoin="round"></path></svg>
<span class="t" style="top: 1042.8px; font-size: 25px; color: rgb(98, 111, 134); -webkit-text-stroke: 0.22px rgb(98, 111, 134); left: 657.8px; letter-spacing: -0.48px;">BREW-12</span>
<span class="t" style="top: 1042.8px; font-size: 25px; color: rgb(23, 43, 77); -webkit-text-stroke: 0.22px rgb(23, 43, 77); left: 781.8px; letter-spacing: 0.358px;">Taste test: Round 1 (vanilla extract)</span>
<svg class="a" style="left:2115.7px;top:1033.8px;" width="43" height="43" viewBox="0 0 100 100"><g transform="translate(50 50) scale(1.0) translate(-50 -50)"><circle cx="50" cy="50" r="50" fill="#8993A5"></circle><circle cx="49" cy="31" r="17.6" fill="#fff"></circle><rect x="23.5" y="52.5" width="51.5" height="34.5" rx="12.5" fill="#fff"></rect></g></svg>
<div class="a" style="left:1992px;top:1040px;width:102px;height:31px;background:#DFE1E6;border-radius:5px;"></div>
<span class="t" style="top: 1046.5px; font-size: 19.6px; color: rgb(68, 84, 111); font-weight: 700; left: 2001.02px; letter-spacing: -0.176px;">TO DO</span>
<svg class="a" style="left:2065.25px;top:1046.8375px;" width="23.5" height="18.325" viewBox="-11.75 -9.1625 23.5 18.325"><path d="M-5.75,-3.1625 L0,3.1625 L5.75,-3.1625" fill="none" stroke="#44546F" stroke-width="3.4" stroke-linecap="round" stroke-linejoin="round"></path></svg>
<svg class="a" style="left:1940px;top:1041.5px;" width="25" height="28" viewBox="0 -14 25 28"><rect x="0" y="-8.7" width="25" height="4.6" rx="2.3" fill="#F5A93B"></rect><rect x="0" y="3.6" width="25" height="4.6" rx="2.3" fill="#F5A93B"></rect></svg>
<div class="a" style="left:1767.3px;top:1041px;width:140.7px;height:28.5px;background:#48A1C0;border-radius:5px;"></div>
<span class="t" style="top: 1045.5px; font-size: 19.6px; color: rgb(255, 255, 255); font-weight: 700; left: 1775.82px; letter-spacing: 0.531px;">QUICK WINS</span>
<div class="a" style="left:550px;top:1090px;width:1699px;height:1.5px;background:#EBECF0;"></div>
<div class="a" style="left:573px;top:1115px;width:25px;height:25px;background:#FAFBFC;border-radius:5.5px;border:3px solid #DEDFE4;box-sizing:border-box;"></div>
<svg class="a" style="left:616.9px;top:1115px;" width="24.3" height="24.3" viewBox="0 0 16 16"><rect width="16" height="16" rx="2.5" fill="#65ABE3"></rect><path d="M3.9 8.7 l2.9 3.1 l4.9 -6.7" fill="none" stroke="#fff" stroke-width="2.1" stroke-linecap="round" stroke-linejoin="round"></path></svg>
<span class="t" style="top: 1114.8px; font-size: 25px; color: rgb(98, 111, 134); -webkit-text-stroke: 0.22px rgb(98, 111, 134); left: 657.8px; letter-spacing: -0.095px;">BREW-5</span>
<span class="t" style="top: 1114.8px; font-size: 25px; color: rgb(23, 43, 77); -webkit-text-stroke: 0.22px rgb(23, 43, 77); left: 769.3px; letter-spacing: 0.337px;">Social content: Week 1</span>
<svg class="a" style="left:2115.7px;top:1105.8px;" width="43" height="43" viewBox="0 0 100 100"><g transform="translate(50 50) scale(1.0) translate(-50 -50)"><circle cx="50" cy="50" r="50" fill="#8993A5"></circle><circle cx="49" cy="31" r="17.6" fill="#fff"></circle><rect x="23.5" y="52.5" width="51.5" height="34.5" rx="12.5" fill="#fff"></rect></g></svg>
<div class="a" style="left:1992px;top:1112px;width:102px;height:31px;background:#DFE1E6;border-radius:5px;"></div>
<span class="t" style="top: 1118.5px; font-size: 19.6px; color: rgb(68, 84, 111); font-weight: 700; left: 2001.02px; letter-spacing: -0.176px;">TO DO</span>
<svg class="a" style="left:2065.25px;top:1118.8375px;" width="23.5" height="18.325" viewBox="-11.75 -9.1625 23.5 18.325"><path d="M-5.75,-3.1625 L0,3.1625 L5.75,-3.1625" fill="none" stroke="#44546F" stroke-width="3.4" stroke-linecap="round" stroke-linejoin="round"></path></svg>
<svg class="a" style="left:1940px;top:1113.5px;" width="25" height="28" viewBox="0 -14 25 28"><path d="M1.8 -3.4 L12.5 4.4 L23.2 -3.4" fill="none" stroke="#2D6BEE" stroke-width="3.8" stroke-linecap="round" stroke-linejoin="round"></path></svg>
<div class="a" style="left:1690.4px;top:1113px;width:218.6px;height:28.5px;background:#EAE6FF;border-radius:5px;"></div>
<span class="t" style="top: 1117.5px; font-size: 19.6px; color: rgb(64, 50, 148); font-weight: 700; left: 1697.92px; letter-spacing: 0.715px;">FY23 LAUNCH PLAN</span>
<div class="a" style="left:550px;top:1162px;width:1699px;height:1.5px;background:#EBECF0;"></div>
<div class="a" style="left:573px;top:1187px;width:25px;height:25px;background:#FAFBFC;border-radius:5.5px;border:3px solid #DEDFE4;box-sizing:border-box;"></div>
<svg class="a" style="left:616.9px;top:1187px;" width="24.3" height="24.3" viewBox="0 0 16 16"><rect width="16" height="16" rx="2.5" fill="#79B74D"></rect><path d="M5.2 3.3 h5.6 a.6.6 0 0 1 .6 .6 v8.6 l-3.4 -2.7 l-3.4 2.7 v-8.6 a.6.6 0 0 1 .6 -.6z" fill="#fff"></path></svg>
<span class="t" style="top: 1186.8px; font-size: 25px; color: rgb(98, 111, 134); -webkit-text-stroke: 0.22px rgb(98, 111, 134); text-decoration: line-through; left: 657.8px; letter-spacing: -0.48px;">BREW-14</span>
<span class="t" style="top: 1186.8px; font-size: 25px; color: rgb(23, 43, 77); -webkit-text-stroke: 0.22px rgb(23, 43, 77); left: 780.8px; letter-spacing: 0.557px;">FY23 Vision: Storyboarding</span>
<svg class="a" style="left:2115.7px;top:1177.8px;" width="43" height="43" viewBox="0 0 100 100"><g transform="translate(50 50) scale(1.0) translate(-50 -50)"><circle cx="50" cy="50" r="50" fill="#8993A5"></circle><circle cx="49" cy="31" r="17.6" fill="#fff"></circle><rect x="23.5" y="52.5" width="51.5" height="34.5" rx="12.5" fill="#fff"></rect></g></svg>
<div class="a" style="left:1998px;top:1184px;width:96px;height:31px;background:#E3FBEC;border-radius:5px;"></div>
<span class="t" style="top: 1190.5px; font-size: 19.6px; color: rgb(33, 110, 78); font-weight: 700; left: 2006.02px; letter-spacing: -0.132px;">DONE</span>
<svg class="a" style="left:2065.25px;top:1190.8375px;" width="23.5" height="18.325" viewBox="-11.75 -9.1625 23.5 18.325"><path d="M-5.75,-3.1625 L0,3.1625 L5.75,-3.1625" fill="none" stroke="#216E4E" stroke-width="3.4" stroke-linecap="round" stroke-linejoin="round"></path></svg>
<svg class="a" style="left:1946px;top:1185.5px;" width="25" height="28" viewBox="0 -14 25 28"><rect x="0" y="-8.7" width="25" height="4.6" rx="2.3" fill="#F5A93B"></rect><rect x="0" y="3.6" width="25" height="4.6" rx="2.3" fill="#F5A93B"></rect></svg>
<div class="a" style="left:1867px;top:1185px;width:45px;height:29px;background:#DFE1E6;border-radius:14.5px;"></div>
<div class="a" style="top:1190.60px;font-size:21.4px;color:#172B4D;-webkit-text-stroke:0.22px #172B4D;left:1289.5px;width:1200px;text-align:center;"><span class="t2">10</span></div>
<div class="a" style="left:1624.4px;top:1185px;width:218.6px;height:28.5px;background:#EAE6FF;border-radius:5px;"></div>
<span class="t" style="top: 1189.5px; font-size: 19.6px; color: rgb(64, 50, 148); font-weight: 700; left: 1631.92px; letter-spacing: 0.715px;">FY23 LAUNCH PLAN</span>
<div class="a" style="left:550px;top:1234px;width:1699px;height:1.5px;background:#EBECF0;"></div>
<div class="a" style="left:573px;top:1259px;width:25px;height:25px;background:#FAFBFC;border-radius:5.5px;border:3px solid #DEDFE4;box-sizing:border-box;"></div>
<svg class="a" style="left:616.9px;top:1259px;" width="24.3" height="24.3" viewBox="0 0 16 16"><rect width="16" height="16" rx="2.5" fill="#79B74D"></rect><path d="M5.2 3.3 h5.6 a.6.6 0 0 1 .6 .6 v8.6 l-3.4 -2.7 l-3.4 2.7 v-8.6 a.6.6 0 0 1 .6 -.6z" fill="#fff"></path></svg>
<span class="t" style="top: 1258.8px; font-size: 25px; color: rgb(98, 111, 134); -webkit-text-stroke: 0.22px rgb(98, 111, 134); left: 657.8px; letter-spacing: -0.48px;">BREW-10</span>
<span class="t" style="top: 1258.8px; font-size: 25px; color: rgb(23, 43, 77); -webkit-text-stroke: 0.22px rgb(23, 43, 77); left: 779.8px; letter-spacing: 0.441px;">Explore personas: Geoff</span>
<svg class="a" style="left:2115.7px;top:1249.8px;" width="43" height="43" viewBox="0 0 100 100"><g transform="translate(50 50) scale(1.0) translate(-50 -50)"><circle cx="50" cy="50" r="50" fill="#8993A5"></circle><circle cx="49" cy="31" r="17.6" fill="#fff"></circle><rect x="23.5" y="52.5" width="51.5" height="34.5" rx="12.5" fill="#fff"></rect></g></svg>
<div class="a" style="left:1918px;top:1256px;width:176px;height:31px;background:#DFE9FB;border-radius:5px;"></div>
<span class="t" style="top: 1262.5px; font-size: 19.6px; color: rgb(29, 79, 196); font-weight: 700; left: 1926.02px; letter-spacing: 0.042px;">IN PROGRESS</span>
<svg class="a" style="left:2065.25px;top:1262.8375px;" width="23.5" height="18.325" viewBox="-11.75 -9.1625 23.5 18.325"><path d="M-5.75,-3.1625 L0,3.1625 L5.75,-3.1625" fill="none" stroke="#1D4FC4" stroke-width="3.4" stroke-linecap="round" stroke-linejoin="round"></path></svg>
<svg class="a" style="left:1866px;top:1257.5px;" width="25" height="28" viewBox="0 -14 25 28"><rect x="0" y="-8.7" width="25" height="4.6" rx="2.3" fill="#F5A93B"></rect><rect x="0" y="3.6" width="25" height="4.6" rx="2.3" fill="#F5A93B"></rect></svg>
<div class="a" style="left:1797px;top:1257px;width:35px;height:29px;background:#DFE1E6;border-radius:14.5px;"></div>
<div class="a" style="top:1262.60px;font-size:21.4px;color:#172B4D;-webkit-text-stroke:0.22px #172B4D;left:1214.5px;width:1200px;text-align:center;"><span class="t2">5</span></div>
<div class="a" style="left:1554.4px;top:1257px;width:218.6px;height:28.5px;background:#EAE6FF;border-radius:5px;"></div>
<span class="t" style="top: 1261.5px; font-size: 19.6px; color: rgb(64, 50, 148); font-weight: 700; left: 1561.92px; letter-spacing: 0.715px;">FY23 LAUNCH PLAN</span>
<div class="a" style="left:550px;top:1306px;width:1699px;height:1.5px;background:#EBECF0;"></div>
<div class="a" style="left:573px;top:1331px;width:25px;height:25px;background:#FAFBFC;border-radius:5.5px;border:3px solid #DEDFE4;box-sizing:border-box;"></div>
<svg class="a" style="left:616.9px;top:1331px;" width="24.3" height="24.3" viewBox="0 0 16 16"><rect width="16" height="16" rx="2.5" fill="#65ABE3"></rect><path d="M3.9 8.7 l2.9 3.1 l4.9 -6.7" fill="none" stroke="#fff" stroke-width="2.1" stroke-linecap="round" stroke-linejoin="round"></path></svg>
<span class="t" style="top: 1330.8px; font-size: 25px; color: rgb(98, 111, 134); -webkit-text-stroke: 0.22px rgb(98, 111, 134); text-decoration: line-through; left: 657.8px; letter-spacing: 0.104px;">BREW-20</span>
<span class="t" style="top: 1330.8px; font-size: 25px; color: rgb(23, 43, 77); -webkit-text-stroke: 0.22px rgb(23, 43, 77); left: 783.3px; letter-spacing: 0.305px;">Review banner ads</span>
<svg class="a" style="left:2115.7px;top:1321.8px;" width="43" height="43" viewBox="0 0 100 100"><g transform="translate(50 50) scale(1.0) translate(-50 -50)"><circle cx="50" cy="50" r="50" fill="#8993A5"></circle><circle cx="49" cy="31" r="17.6" fill="#fff"></circle><rect x="23.5" y="52.5" width="51.5" height="34.5" rx="12.5" fill="#fff"></rect></g></svg>
<div class="a" style="left:1998px;top:1328px;width:96px;height:31px;background:#E3FBEC;border-radius:5px;"></div>
<span class="t" style="top: 1334.5px; font-size: 19.6px; color: rgb(33, 110, 78); font-weight: 700; left: 2006.02px; letter-spacing: -0.132px;">DONE</span>
<svg class="a" style="left:2065.25px;top:1334.8375px;" width="23.5" height="18.325" viewBox="-11.75 -9.1625 23.5 18.325"><path d="M-5.75,-3.1625 L0,3.1625 L5.75,-3.1625" fill="none" stroke="#216E4E" stroke-width="3.4" stroke-linecap="round" stroke-linejoin="round"></path></svg>
<svg class="a" style="left:1946px;top:1329.5px;" width="25" height="28" viewBox="0 -14 25 28"><rect x="0" y="-8.7" width="25" height="4.6" rx="2.3" fill="#F5A93B"></rect><rect x="0" y="3.6" width="25" height="4.6" rx="2.3" fill="#F5A93B"></rect></svg>
<div class="a" style="left:1773.3px;top:1329px;width:140.7px;height:28.5px;background:#48A1C0;border-radius:5px;"></div>
<span class="t" style="top: 1333.5px; font-size: 19.6px; color: rgb(255, 255, 255); font-weight: 700; left: 1781.82px; letter-spacing: 0.531px;">QUICK WINS</span>
<div class="a" style="left:550px;top:1378px;width:1699px;height:1.5px;background:#EBECF0;"></div>
<div class="a" style="left:573px;top:1403px;width:25px;height:25px;background:#FAFBFC;border-radius:5.5px;border:3px solid #DEDFE4;box-sizing:border-box;"></div>
<svg class="a" style="left:616.9px;top:1403px;" width="24.3" height="24.3" viewBox="0 0 16 16"><rect width="16" height="16" rx="2.5" fill="#79B74D"></rect><path d="M5.2 3.3 h5.6 a.6.6 0 0 1 .6 .6 v8.6 l-3.4 -2.7 l-3.4 2.7 v-8.6 a.6.6 0 0 1 .6 -.6z" fill="#fff"></path></svg>
<span class="t" style="top: 1402.8px; font-size: 25px; color: rgb(98, 111, 134); -webkit-text-stroke: 0.22px rgb(98, 111, 134); text-decoration: line-through; left: 657.8px; letter-spacing: -0.396px;">BREW-21</span>
<span class="t" style="top: 1402.8px; font-size: 25px; color: rgb(23, 43, 77); -webkit-text-stroke: 0.22px rgb(23, 43, 77); left: 781.3px; letter-spacing: 0.641px;">Onboarding tour refinements</span>
<svg class="a" style="left:2115.7px;top:1393.8px;" width="43" height="43" viewBox="0 0 100 100"><g transform="translate(50 50) scale(1.0) translate(-50 -50)"><circle cx="50" cy="50" r="50" fill="#8993A5"></circle><circle cx="49" cy="31" r="17.6" fill="#fff"></circle><rect x="23.5" y="52.5" width="51.5" height="34.5" rx="12.5" fill="#fff"></rect></g></svg>
<div class="a" style="left:1998px;top:1400px;width:96px;height:31px;background:#E3FBEC;border-radius:5px;"></div>
<span class="t" style="top: 1406.5px; font-size: 19.6px; color: rgb(33, 110, 78); font-weight: 700; left: 2006.02px; letter-spacing: -0.132px;">DONE</span>
<svg class="a" style="left:2065.25px;top:1406.8375px;" width="23.5" height="18.325" viewBox="-11.75 -9.1625 23.5 18.325"><path d="M-5.75,-3.1625 L0,3.1625 L5.75,-3.1625" fill="none" stroke="#216E4E" stroke-width="3.4" stroke-linecap="round" stroke-linejoin="round"></path></svg>
<svg class="a" style="left:1946px;top:1401.5px;" width="25" height="28" viewBox="0 -14 25 28"><rect x="0" y="-8.7" width="25" height="4.6" rx="2.3" fill="#F5A93B"></rect><rect x="0" y="3.6" width="25" height="4.6" rx="2.3" fill="#F5A93B"></rect></svg>
<div class="a" style="left:1877px;top:1401px;width:35px;height:29px;background:#DFE1E6;border-radius:14.5px;"></div>
<div class="a" style="top:1406.60px;font-size:21.4px;color:#172B4D;-webkit-text-stroke:0.22px #172B4D;left:1294.5px;width:1200px;text-align:center;"><span class="t2">3</span></div>
<div class="a" style="left:1634.4px;top:1401px;width:218.6px;height:28.5px;background:#EAE6FF;border-radius:5px;"></div>
<span class="t" style="top: 1405.5px; font-size: 19.6px; color: rgb(64, 50, 148); font-weight: 700; left: 1641.92px; letter-spacing: 0.715px;">FY23 LAUNCH PLAN</span>
<div class="a" style="left:550px;top:1450px;width:1699px;height:1.5px;background:#EBECF0;"></div>
<div class="a" style="left:573px;top:1475px;width:25px;height:25px;background:#FAFBFC;border-radius:5.5px;border:3px solid #DEDFE4;box-sizing:border-box;"></div>
<svg class="a" style="left:616.9px;top:1475px;" width="24.3" height="24.3" viewBox="0 0 16 16"><rect width="16" height="16" rx="2.5" fill="#65ABE3"></rect><path d="M3.9 8.7 l2.9 3.1 l4.9 -6.7" fill="none" stroke="#fff" stroke-width="2.1" stroke-linecap="round" stroke-linejoin="round"></path></svg>
<span class="t" style="top: 1474.8px; font-size: 25px; color: rgb(98, 111, 134); -webkit-text-stroke: 0.22px rgb(98, 111, 134); left: 657.8px; letter-spacing: 0.104px;">BREW-22</span>
<span class="t" style="top: 1474.8px; font-size: 25px; color: rgb(23, 43, 77); -webkit-text-stroke: 0.22px rgb(23, 43, 77); left: 785.3px; letter-spacing: 0.514px;">Taste test: Flate white cups</span>
<svg class="a" style="left:2115.7px;top:1465.8px;" width="43" height="43" viewBox="0 0 100 100"><g transform="translate(50 50) scale(1.0) translate(-50 -50)"><circle cx="50" cy="50" r="50" fill="#8993A5"></circle><circle cx="49" cy="31" r="17.6" fill="#fff"></circle><rect x="23.5" y="52.5" width="51.5" height="34.5" rx="12.5" fill="#fff"></rect></g></svg>
<div class="a" style="left:1918px;top:1472px;width:176px;height:31px;background:#DFE9FB;border-radius:5px;"></div>
<span class="t" style="top: 1478.5px; font-size: 19.6px; color: rgb(29, 79, 196); font-weight: 700; left: 1926.02px; letter-spacing: 0.042px;">IN PROGRESS</span>
<svg class="a" style="left:2065.25px;top:1478.8375px;" width="23.5" height="18.325" viewBox="-11.75 -9.1625 23.5 18.325"><path d="M-5.75,-3.1625 L0,3.1625 L5.75,-3.1625" fill="none" stroke="#1D4FC4" stroke-width="3.4" stroke-linecap="round" stroke-linejoin="round"></path></svg>
<svg class="a" style="left:1866px;top:1473.5px;" width="25" height="28" viewBox="0 -14 25 28"><path d="M1.8 -3.4 L12.5 4.4 L23.2 -3.4" fill="none" stroke="#2D6BEE" stroke-width="3.8" stroke-linecap="round" stroke-linejoin="round"></path></svg>
<div class="a" style="left:1693.3px;top:1473px;width:140.7px;height:28.5px;background:#48A1C0;border-radius:5px;"></div>
<span class="t" style="top: 1477.5px; font-size: 19.6px; color: rgb(255, 255, 255); font-weight: 700; left: 1701.82px; letter-spacing: 0.531px;">QUICK WINS</span>
<div class="a" style="left:550px;top:1522px;width:1699px;height:1.5px;background:#EBECF0;"></div>
<div class="a" style="left:573px;top:1547px;width:25px;height:25px;background:#FAFBFC;border-radius:5.5px;border:3px solid #DEDFE4;box-sizing:border-box;"></div>
<svg class="a" style="left:616.9px;top:1547px;" width="24.3" height="24.3" viewBox="0 0 16 16"><rect width="16" height="16" rx="2.5" fill="#65ABE3"></rect><path d="M3.9 8.7 l2.9 3.1 l4.9 -6.7" fill="none" stroke="#fff" stroke-width="2.1" stroke-linecap="round" stroke-linejoin="round"></path></svg>
<span class="t" style="top: 1546.8px; font-size: 25px; color: rgb(98, 111, 134); -webkit-text-stroke: 0.22px rgb(98, 111, 134); left: 657.8px; letter-spacing: 0.187px;">BREW-23</span>
<span class="t" style="top: 1546.8px; font-size: 25px; color: rgb(23, 43, 77); -webkit-text-stroke: 0.22px rgb(23, 43, 77); left: 785.8px; letter-spacing: 0.446px;">Taste test: Latte glasses</span>
<svg class="a" style="left:2115.7px;top:1537.8px;" width="43" height="43" viewBox="0 0 100 100"><g transform="translate(50 50) scale(1.0) translate(-50 -50)"><circle cx="50" cy="50" r="50" fill="#8993A5"></circle><circle cx="49" cy="31" r="17.6" fill="#fff"></circle><rect x="23.5" y="52.5" width="51.5" height="34.5" rx="12.5" fill="#fff"></rect></g></svg>
<div class="a" style="left:1992px;top:1544px;width:102px;height:31px;background:#DFE1E6;border-radius:5px;"></div>
<span class="t" style="top: 1550.5px; font-size: 19.6px; color: rgb(68, 84, 111); font-weight: 700; left: 2001.02px; letter-spacing: -0.176px;">TO DO</span>
<svg class="a" style="left:2065.25px;top:1550.8375px;" width="23.5" height="18.325" viewBox="-11.75 -9.1625 23.5 18.325"><path d="M-5.75,-3.1625 L0,3.1625 L5.75,-3.1625" fill="none" stroke="#44546F" stroke-width="3.4" stroke-linecap="round" stroke-linejoin="round"></path></svg>
<svg class="a" style="left:1940px;top:1545.5px;" width="25" height="28" viewBox="0 -14 25 28"><path d="M1.8 -3.4 L12.5 4.4 L23.2 -3.4" fill="none" stroke="#2D6BEE" stroke-width="3.8" stroke-linecap="round" stroke-linejoin="round"></path></svg>
<div class="a" style="left:1690.4px;top:1545px;width:218.6px;height:28.5px;background:#EAE6FF;border-radius:5px;"></div>
<span class="t" style="top: 1549.5px; font-size: 19.6px; color: rgb(64, 50, 148); font-weight: 700; left: 1697.92px; letter-spacing: 0.715px;">FY23 LAUNCH PLAN</span>
<div class="a" style="left:535px;top:1683px;width:1728px;height:60px;background:#F4F5F7;border-radius:16px;"></div>
<div class="a" style="left:2192px;top:1696px;width:58px;height:30px;background:#E4E6EA;border-radius:6px;"></div>
<div class="a" style="left:930px;top:1734px;width:750px;height:60px;background:#999;border-radius:30px;box-shadow:0 0 110px 10px rgba(23,30,45,.36);"></div>
<span class="t" style="top: 415.6px; font-size: 21.4px; color: rgb(98, 111, 134); -webkit-text-stroke: 0.22px rgb(98, 111, 134); left: 2376.11px; letter-spacing: -0.196px;">BREW-13</span>
<span class="t" style="top:415.60px;font-size:21.4px;color:#626F86;-webkit-text-stroke:0.22px #626F86;left:2488px;">/</span>
<svg class="a" style="left:2384.7px;top:450px;" width="24.3" height="24.3" viewBox="0 0 16 16"><rect width="16" height="16" rx="2.5" fill="#79B74D"></rect><path d="M5.2 3.3 h5.6 a.6.6 0 0 1 .6 .6 v8.6 l-3.4 -2.7 l-3.4 2.7 v-8.6 a.6.6 0 0 1 .6 -.6z" fill="#fff"></path></svg>
<span class="t" style="top: 452.6px; font-size: 21.4px; color: rgb(98, 111, 134); -webkit-text-stroke: 0.22px rgb(98, 111, 134); left: 2426.61px; letter-spacing: -0.471px;">BREW-11</span>
<svg class="a" style="left:2713px;top:428px;" width="39" height="34" viewBox="0 0 39 34"><path d="M1.5 17 C7 6.5 13 3 19.5 3 C26 3 32 6.5 37.5 17 C32 25 26 31 19.5 31 C13 31 7 25 1.5 17 Z" fill="#1B4BB8"></path><circle cx="19.5" cy="17" r="6.6" fill="#fff"></circle><circle cx="19.5" cy="17" r="3.3" fill="#1B4BB8"></circle></svg>
<span class="t" style="top:432.80px;font-size:25px;color:#1B4BB8;-webkit-text-stroke:0.22px #1B4BB8;left:2765px;">1</span>
<svg class="a" style="left:2826px;top:428px;" width="34" height="34" viewBox="0 0 34 34"><g fill="none" stroke="#44546F" stroke-width="3.2" stroke-linecap="round" stroke-linejoin="round"><path d="M3 16 V30"></path><path d="M9.5 29.5 V16.5 L15.5 4.5 C19.5 4 20.8 7 20 9.5 L18.6 14.2 H27 C30.5 14.2 31.2 17 30.5 19 L28.2 27 C27.6 29 26.4 30 24.5 30 H11.5 C10.3 30 9.5 29.6 9.5 29.5 Z"></path></g></svg>
<svg class="a" style="left:2899px;top:427px;" width="38" height="38" viewBox="0 0 38 38"><g fill="none" stroke="#44546F" stroke-width="3.2" stroke-linecap="round" stroke-linejoin="round"><circle cx="29" cy="7.5" r="4.4"></circle><circle cx="7.5" cy="19" r="4.4"></circle><circle cx="29" cy="30.5" r="4.4"></circle><path d="M11.5 16.9 L25 9.6 M11.5 21.1 L25 28.4"></path></g></svg>
<svg class="a" style="left:2972.4px;top:440.9px;" width="34.2" height="9.2" viewBox="-17.1 -4.6 34.2 9.2"><circle cx="-12.5" cy="0" r="3.6" fill="#44546F"></circle><circle cx="0.0" cy="0" r="3.6" fill="#44546F"></circle><circle cx="12.5" cy="0" r="3.6" fill="#44546F"></circle></svg>
<svg class="a" style="left:3047px;top:432px;" width="28" height="28" viewBox="0 0 28 28"><path d="M3.5 3.5 L24.5 24.5 M24.5 3.5 L3.5 24.5" fill="none" stroke="#44546F" stroke-width="3.2" stroke-linecap="round" stroke-linejoin="round"></path></svg>
<span class="t" style="top: 509.8px; font-size: 43px; color: rgb(23, 43, 77); -webkit-text-stroke: 1.15px rgb(23, 43, 77); left: 2377.24px; letter-spacing: -0.622px;">Journey mapping workshop w/ Beanz</span>
<div class="a" style="left:2375px;top:576px;width:58px;height:58px;background:#F5F5F6;border-radius:6px;"></div>
<div class="a" style="left:2447px;top:576px;width:58px;height:58px;background:#F5F5F6;border-radius:6px;"></div>
<div class="a" style="left:2519px;top:576px;width:58px;height:58px;background:#F5F5F6;border-radius:6px;"></div>
<div class="a" style="left:2591px;top:576px;width:58px;height:58px;background:#F5F5F6;border-radius:6px;"></div>
<div class="a" style="left:2663px;top:576px;width:58px;height:59.5px;background:#F5F5F6;border-radius:6px;"></div>
<svg class="a" style="left:2384px;top:585px;" width="40" height="40" viewBox="0 0 40 40"><g transform="rotate(45 20 20) translate(20 20) scale(1.16) translate(-20 -20)"><path d="M13.5 11 V27.5 a6.5 6.5 0 0 0 13 0 V9.5 a4.4 4.4 0 0 0 -8.8 0 V26.7 a2.2 2.2 0 0 0 4.4 0 V13" fill="none" stroke="#44546F" stroke-width="3.0" stroke-linecap="round" stroke-linejoin="round"></path></g></svg>
<svg class="a" style="left:2458px;top:586.5px;" width="38" height="38" viewBox="0 0 38 38"><g fill="none" stroke="#44546F" stroke-width="3.6" stroke-linecap="round" stroke-linejoin="round"><rect x="3.5" y="3.5" width="21" height="21" rx="2.5"></rect><path d="M9 13.5 l3.8 3.8 l6.6 -7.6"></path><path d="M32.5 11 V30 a2.5 2.5 0 0 1 -2.5 2.5 H11"></path></g></svg>
<svg class="a" style="left:2529px;top:586px;" width="38" height="38" viewBox="0 0 38 38"><g transform="rotate(-40 19 19) translate(19 19) scale(1.18) translate(-19 -19)" fill="none" stroke="#44546F" stroke-width="3.3" stroke-linecap="round" stroke-linejoin="round"><path d="M16.5 12.5 H10.5 a6.5 6.5 0 0 0 0 13 H16.5"></path><path d="M21.4 12.5 H25 a6.5 6.5 0 0 1 0 13 H21.4"></path><path d="M13.5 19 H24.5"></path></g></svg>
<svg class="a" style="left:2601px;top:586px;" width="38" height="38" viewBox="0 0 38 38"><defs><linearGradient id="atl" x1=".6" y1=".2" x2=".2" y2="1"><stop offset="0" stop-color="#1F55D6"></stop><stop offset="1" stop-color="#3D8BFB"></stop></linearGradient></defs><path d="M19.6 3.2 C14 11 14.5 19 17.5 25 L21.2 33.6 C21.4 34.2 22 34.5 22.6 34.5 H33.6 C34.6 34.5 35.2 33.5 34.8 32.6 L20.8 3.3 C19.6 2.7 19.9 2.7 19.6 3.2 Z" fill="#3B82F6"></path><path d="M13.6 17.2 C13.1 16.5 12.2 16.6 11.8 17.4 L3.4 32.6 C3 33.5 3.6 34.5 4.6 34.5 H16 C16.6 34.5 17.1 34.2 17.3 33.6 C19.6 28.6 18.2 21.6 13.6 17.2 Z" fill="url(#atl)"></path></svg>
<svg class="a" style="left:2674.9px;top:601.4px;" width="34.2" height="9.2" viewBox="-17.1 -4.6 34.2 9.2"><circle cx="-12.5" cy="0" r="3.6" fill="#44546F"></circle><circle cx="0.0" cy="0" r="3.6" fill="#44546F"></circle><circle cx="12.5" cy="0" r="3.6" fill="#44546F"></circle></svg>
<div class="a" style="left:2375px;top:671px;width:231px;height:58px;background:#1D4FC4;border-radius:6px;"></div>
<span class="t" style="top: 688.8px; font-size: 25px; color: rgb(255, 255, 255); -webkit-text-stroke: 1.3px rgb(255, 255, 255); left: 2396.3px; letter-spacing: 1.007px;">In Progress</span>
<svg class="a" style="left:2551.25px;top:691.3375px;" width="23.5" height="18.325" viewBox="-11.75 -9.1625 23.5 18.325"><path d="M-5.75,-3.1625 L0,3.1625 L5.75,-3.1625" fill="none" stroke="#fff" stroke-width="3.8" stroke-linecap="round" stroke-linejoin="round"></path></svg>
<svg class="a" style="left:2648px;top:683px;" width="30" height="36" viewBox="0 0 30 36"><path d="M10 3 H23.5 L19 13.5 H25 L7.5 32 L11.5 19.5 H5 Z" fill="none" stroke="#44546F" stroke-width="3.7" stroke-linecap="round" stroke-linejoin="round"></path></svg>
<span class="t" style="top: 687.8px; font-size: 25px; color: rgb(68, 84, 111); -webkit-text-stroke: 0.8px rgb(68, 84, 111); left: 2695.3px; letter-spacing: 0.653px;">Actions</span>
<svg class="a" style="left:2799.0px;top:691.7px;" width="24" height="18.6" viewBox="-12.0 -9.3 24 18.6"><path d="M-6.0,-3.3000000000000003 L0,3.3000000000000003 L6.0,-3.3000000000000003" fill="none" stroke="#44546F" stroke-width="3.4" stroke-linecap="round" stroke-linejoin="round"></path></svg>
<span class="t" style="top: 752.8px; font-size: 25px; color: rgb(23, 43, 77); -webkit-text-stroke: 1.3px rgb(23, 43, 77); left: 2375.28px; letter-spacing: 1.25px; transform: scaleX(1.0093); transform-origin: left center;">Description</span>
<span class="t" style="top: 803.8px; font-size: 25px; color: rgb(98, 111, 134); -webkit-text-stroke: 0.22px rgb(98, 111, 134); left: 2377.3px; letter-spacing: 0.491px;">Add a description...</span>
<div class="a" style="left:2375.5px;top:888px;width:702.5px;height:649px;background:#fff;border-radius:7px;border:1.5px solid #DFE1E6;box-sizing:border-box;"></div>
<div class="a" style="left:2375px;top:1537px;width:704px;height:3.5px;background:#EBECF0;"></div>
<span class="t" style="top: 918.8px; font-size: 25px; color: rgb(23, 43, 77); -webkit-text-stroke: 1.3px rgb(23, 43, 77); left: 2398.3px; letter-spacing: 1.081px;">Details</span>
<svg class="a" style="left:3021.5px;top:920.2px;" width="24" height="18.6" viewBox="-12.0 -9.3 24 18.6"><path d="M-6.0,3.3000000000000003 L0,-3.3000000000000003 L6.0,3.3000000000000003" fill="none" stroke="#44546F" stroke-width="3.6" stroke-linecap="round" stroke-linejoin="round"></path></svg>
<div class="a" style="left:2376px;top:973px;width:702px;height:1.5px;background:#DFE1E6;"></div>
<span class="t" style="top: 1006.6px; font-size: 21.4px; color: rgb(68, 84, 111); -webkit-text-stroke: 1.11px rgb(68, 84, 111); left: 2400.11px; letter-spacing: 0.79px;">Assignee</span>
<svg class="a" style="left:2663.5px;top:996.0px;" width="44" height="44" viewBox="0 0 100 100">
<defs><clipPath id="cp2685_1018"><circle cx="50" cy="50" r="50"></circle></clipPath>
<filter id="bl2685_1018" x="-10%" y="-10%" width="120%" height="120%"><feGaussianBlur stdDeviation="1.1"></feGaussianBlur></filter></defs>
<g clip-path="url(#cp2685_1018)"><g filter="url(#bl2685_1018)">
<rect x="-5" y="-5" width="110" height="110" fill="#F1E0AF"></rect>
<rect x="13" y="10" width="2.2" height="90" fill="#D6BF86"></rect><rect x="24" y="10" width="1.6" height="90" fill="#E0CC96"></rect>
<rect x="79" y="10" width="2.4" height="90" fill="#D6BF86"></rect><rect x="90" y="10" width="1.6" height="90" fill="#E0CC96"></rect>
<rect x="0" y="30" width="12" height="70" fill="#F6E8BE"></rect>
<path d="M-5 -5 H105 V15 C80 19 20 19 -5 15 Z" fill="#B0673F"></path>
<circle cx="72" cy="14" r="4" fill="#D8564A"></circle>
<path d="M84 82 L100 70 V100 H80 Z" fill="#D2AE66"></path>
<path d="M10 100 C12 78 22 68 40 58 L52 64 L62 54 C68 58 72 62 78 64 L86 50 C93 53 98 58 101 66 L94 84 L88 80 L86 101 Z" fill="#C2C9D4"></path>
<path d="M40 57 L53 64 L48 73 L35 63 Z" fill="#D8D8D5"></path>
<path d="M43 44 L60 48 L58 58 L50 63 L42 56 Z" fill="#A67D6B"></path>
<ellipse cx="47" cy="30" rx="27" ry="27" fill="#2D2628"></ellipse>
<ellipse cx="31" cy="44" rx="11" ry="15" fill="#2D2628"></ellipse>
<ellipse cx="71" cy="58" rx="13.5" ry="25" fill="#2D2628"></ellipse>
<ellipse cx="66" cy="40" rx="14" ry="20" fill="#2D2628"></ellipse>
<ellipse cx="51.5" cy="38" rx="11.5" ry="14.5" fill="#B58B79"></ellipse>
<path d="M37 30 C40 18 60 16 66 30 C60 24 56 27 52 25 C47 28 42 25 37 30 Z" fill="#2D2628"></path>
<ellipse cx="47.5" cy="37" rx="2.4" ry="1.3" fill="#5A4038"></ellipse><ellipse cx="57" cy="37.5" rx="2.2" ry="1.2" fill="#5A4038"></ellipse>
<path d="M47 45.5 Q52 49 57.5 45.5 Q52 47.5 47 45.5Z" fill="#7A4A42"></path>
</g></g></svg>
<span class="t" style="top: 1005.8px; font-size: 25px; color: rgb(23, 43, 77); -webkit-text-stroke: 0.22px rgb(23, 43, 77); left: 2726.3px; letter-spacing: 0.368px;">Jessie Spiteri</span>
<span class="t" style="top: 1086.6px; font-size: 21.4px; color: rgb(68, 84, 111); -webkit-text-stroke: 1.11px rgb(68, 84, 111); left: 2399.11px; letter-spacing: 0.933px;">Reporter</span>
<svg class="a" style="left:2664.0px;top:1075.5px;" width="44" height="44" viewBox="0 0 100 100">
<defs><clipPath id="cp2686_1097"><circle cx="50" cy="50" r="50"></circle></clipPath>
<filter id="bl2686_1097" x="-10%" y="-10%" width="120%" height="120%"><feGaussianBlur stdDeviation="1.1"></feGaussianBlur></filter></defs>
<g clip-path="url(#cp2686_1097)"><g filter="url(#bl2686_1097)">
<rect x="-5" y="-5" width="110" height="110" fill="#F1E0AF"></rect>
<rect x="13" y="10" width="2.2" height="90" fill="#D6BF86"></rect><rect x="24" y="10" width="1.6" height="90" fill="#E0CC96"></rect>
<rect x="79" y="10" width="2.4" height="90" fill="#D6BF86"></rect><rect x="90" y="10" width="1.6" height="90" fill="#E0CC96"></rect>
<rect x="0" y="30" width="12" height="70" fill="#F6E8BE"></rect>
<path d="M-5 -5 H105 V15 C80 19 20 19 -5 15 Z" fill="#B0673F"></path>
<circle cx="72" cy="14" r="4" fill="#D8564A"></circle>
<path d="M84 82 L100 70 V100 H80 Z" fill="#D2AE66"></path>
<path d="M10 100 C12 78 22 68 40 58 L52 64 L62 54 C68 58 72 62 78 64 L86 50 C93 53 98 58 101 66 L94 84 L88 80 L86 101 Z" fill="#C2C9D4"></path>
<path d="M40 57 L53 64 L48 73 L35 63 Z" fill="#D8D8D5"></path>
<path d="M43 44 L60 48 L58 58 L50 63 L42 56 Z" fill="#A67D6B"></path>
<ellipse cx="47" cy="30" rx="27" ry="27" fill="#2D2628"></ellipse>
<ellipse cx="31" cy="44" rx="11" ry="15" fill="#2D2628"></ellipse>
<ellipse cx="71" cy="58" rx="13.5" ry="25" fill="#2D2628"></ellipse>
<ellipse cx="66" cy="40" rx="14" ry="20" fill="#2D2628"></ellipse>
<ellipse cx="51.5" cy="38" rx="11.5" ry="14.5" fill="#B58B79"></ellipse>
<path d="M37 30 C40 18 60 16 66 30 C60 24 56 27 52 25 C47 28 42 25 37 30 Z" fill="#2D2628"></path>
<ellipse cx="47.5" cy="37" rx="2.4" ry="1.3" fill="#5A4038"></ellipse><ellipse cx="57" cy="37.5" rx="2.2" ry="1.2" fill="#5A4038"></ellipse>
<path d="M47 45.5 Q52 49 57.5 45.5 Q52 47.5 47 45.5Z" fill="#7A4A42"></path>
</g></g></svg>
<span class="t" style="top: 1084.8px; font-size: 25px; color: rgb(23, 43, 77); -webkit-text-stroke: 0.22px rgb(23, 43, 77); left: 2726.3px; letter-spacing: 0.368px;">Jessie Spiteri</span>
<span class="t" style="top: 1165.6px; font-size: 21.4px; color: rgb(68, 84, 111); -webkit-text-stroke: 1.11px rgb(68, 84, 111); left: 2399.11px; letter-spacing: 0.658px;">Labels</span>
<div class="a" style="left:2660px;top:1157px;width:106px;height:36px;background:#F5F5F6;border-radius:6px;"></div>
<span class="t" style="top: 1162.8px; font-size: 25px; color: rgb(29, 79, 196); -webkit-text-stroke: 0.22px rgb(29, 79, 196); left: 2669.3px; letter-spacing: 0.522px;">Android</span>
<div class="a" style="left:2780px;top:1157px;width:132px;height:36px;background:#F5F5F6;border-radius:6px;"></div>
<span class="t" style="top: 1162.8px; font-size: 25px; color: rgb(29, 79, 196); -webkit-text-stroke: 0.22px rgb(29, 79, 196); left: 2789.3px; letter-spacing: 0.46px;">Workshop</span>
<div class="a" style="left:2926px;top:1157px;width:55px;height:36px;background:#F5F5F6;border-radius:6px;"></div>
<span class="t" style="top: 1162.8px; font-size: 25px; color: rgb(29, 79, 196); -webkit-text-stroke: 0.22px rgb(29, 79, 196); left: 2934.31px; letter-spacing: -0.55px; transform: scaleX(0.9871); transform-origin: left center;">iOS</span>
<span class="t" style="top: 1244.6px; font-size: 21.4px; color: rgb(68, 84, 111); -webkit-text-stroke: 1.11px rgb(68, 84, 111); left: 2400.11px; letter-spacing: 0.939px;">Sprint</span>
<span class="t" style="top: 1242.8px; font-size: 25px; color: rgb(23, 43, 77); -webkit-text-stroke: 0.22px rgb(23, 43, 77); left: 2662.3px; letter-spacing: 0.804px;">Affogato</span>
<span class="t" style="top: 1324.6px; font-size: 21.4px; color: rgb(68, 84, 111); -webkit-text-stroke: 1.11px rgb(68, 84, 111); left: 2400.11px; letter-spacing: 0.864px;">Story Points</span>
<div class="a" style="left:2660px;top:1321px;width:35px;height:28px;background:#DFE1E6;border-radius:14px;"></div>
<div class="a" style="top:1324.60px;font-size:21.4px;color:#172B4D;-webkit-text-stroke:0.22px #172B4D;left:2077.5px;width:1200px;text-align:center;"><span class="t2">5</span></div>
<span class="t" style="top: 1405.6px; font-size: 21.4px; color: rgb(68, 84, 111); -webkit-text-stroke: 1.11px rgb(68, 84, 111); left: 2399.11px; letter-spacing: 0.566px;">Epic Link</span>
<div class="a" style="left:2660px;top:1396px;width:224px;height:38.5px;background:#EAE6FF;border-radius:6px;"></div>
<span class="t" style="top: 1402.8px; font-size: 25px; color: rgb(64, 50, 148); -webkit-text-stroke: 0.22px rgb(64, 50, 148); left: 2667.3px; letter-spacing: 0.24px;">FY23 Launch Plan</span>
<span class="t" style="top: 1484.6px; font-size: 21.4px; color: rgb(68, 84, 111); -webkit-text-stroke: 1.11px rgb(68, 84, 111); left: 2399.11px; letter-spacing: 1.07px; transform: scaleX(1.0039); transform-origin: left center;">Priority</span>
<svg class="a" style="left:2673px;top:1480px;" width="25" height="28" viewBox="0 -14 25 28"><path d="M1.8 3.2 L12.5 -4.2 L23.2 3.2" fill="none" stroke="#E5502F" stroke-width="3.8" stroke-linecap="round" stroke-linejoin="round"></path></svg>
<span class="t" style="top: 1483.8px; font-size: 25px; color: rgb(23, 43, 77); -webkit-text-stroke: 0.22px rgb(23, 43, 77); left: 2725.3px; letter-spacing: 0.963px;">High</span>
<svg class="a" style="left:2379.0px;top:1575.0px;" width="58" height="58" viewBox="0 0 100 100">
<defs><clipPath id="cp2408_1604"><circle cx="50" cy="50" r="50"></circle></clipPath>
<filter id="bl2408_1604" x="-10%" y="-10%" width="120%" height="120%"><feGaussianBlur stdDeviation="1.1"></feGaussianBlur></filter></defs>
<g clip-path="url(#cp2408_1604)"><g filter="url(#bl2408_1604)">
<rect x="-5" y="-5" width="110" height="110" fill="#F1E0AF"></rect>
<rect x="13" y="10" width="2.2" height="90" fill="#D6BF86"></rect><rect x="24" y="10" width="1.6" height="90" fill="#E0CC96"></rect>
<rect x="79" y="10" width="2.4" height="90" fill="#D6BF86"></rect><rect x="90" y="10" width="1.6" height="90" fill="#E0CC96"></rect>
<rect x="0" y="30" width="12" height="70" fill="#F6E8BE"></rect>
<path d="M-5 -5 H105 V15 C80 19 20 19 -5 15 Z" fill="#B0673F"></path>
<circle cx="72" cy="14" r="4" fill="#D8564A"></circle>
<path d="M84 82 L100 70 V100 H80 Z" fill="#D2AE66"></path>
<path d="M10 100 C12 78 22 68 40 58 L52 64 L62 54 C68 58 72 62 78 64 L86 50 C93 53 98 58 101 66 L94 84 L88 80 L86 101 Z" fill="#C2C9D4"></path>
<path d="M40 57 L53 64 L48 73 L35 63 Z" fill="#D8D8D5"></path>
<path d="M43 44 L60 48 L58 58 L50 63 L42 56 Z" fill="#A67D6B"></path>
<ellipse cx="47" cy="30" rx="27" ry="27" fill="#2D2628"></ellipse>
<ellipse cx="31" cy="44" rx="11" ry="15" fill="#2D2628"></ellipse>
<ellipse cx="71" cy="58" rx="13.5" ry="25" fill="#2D2628"></ellipse>
<ellipse cx="66" cy="40" rx="14" ry="20" fill="#2D2628"></ellipse>
<ellipse cx="51.5" cy="38" rx="11.5" ry="14.5" fill="#B58B79"></ellipse>
<path d="M37 30 C40 18 60 16 66 30 C60 24 56 27 52 25 C47 28 42 25 37 30 Z" fill="#2D2628"></path>
<ellipse cx="47.5" cy="37" rx="2.4" ry="1.3" fill="#5A4038"></ellipse><ellipse cx="57" cy="37.5" rx="2.2" ry="1.2" fill="#5A4038"></ellipse>
<path d="M47 45.5 Q52 49 57.5 45.5 Q52 47.5 47 45.5Z" fill="#7A4A42"></path>
</g></g></svg>
<div class="a" style="left:2462px;top:1569px;width:616px;height:72px;background:#fff;border-radius:7px;border:1.5px solid #DFE1E6;box-sizing:border-box;"></div>
<span class="t" style="top: 1592.8px; font-size: 25px; color: rgb(110, 112, 115); -webkit-text-stroke: 0.22px rgb(110, 112, 115); left: 2501.3px; letter-spacing: 0.228px;">Add a comment...</span>
<span class="t" style="top: 1658.6px; font-size: 21.4px; color: rgb(98, 111, 134); -webkit-text-stroke: 1.11px rgb(98, 111, 134); left: 2462.06px; letter-spacing: 1.07px; transform: scaleX(1.0528); transform-origin: left center;">Pro tip:</span>
<span class="t" style="top: 1658.6px; font-size: 21.4px; color: rgb(98, 111, 134); -webkit-text-stroke: 0.22px rgb(98, 111, 134); left: 2547.61px; letter-spacing: 0.755px;">press</span>
<div class="a" style="left:2609px;top:1656px;width:32px;height:28.5px;background:#DFE1E6;border-radius:5px;"></div>
<div class="a" style="top:1660.50px;font-size:19.6px;color:#44546F;font-weight:700;left:2025px;width:1200px;text-align:center;"><span class="t2">M</span></div>
<span class="t" style="top: 1658.6px; font-size: 21.4px; color: rgb(98, 111, 134); -webkit-text-stroke: 0.22px rgb(98, 111, 134); left: 2649.11px; letter-spacing: 0.758px;">to comment</span>
<svg class="a" style="left:3094px;top:1682px;" width="20" height="20" viewBox="0 0 20 20"><path d="M20 20 V5.5 C19.5 12 17.5 17 13.5 20 Z" fill="#111"></path></svg>
</div>
</body></html>
